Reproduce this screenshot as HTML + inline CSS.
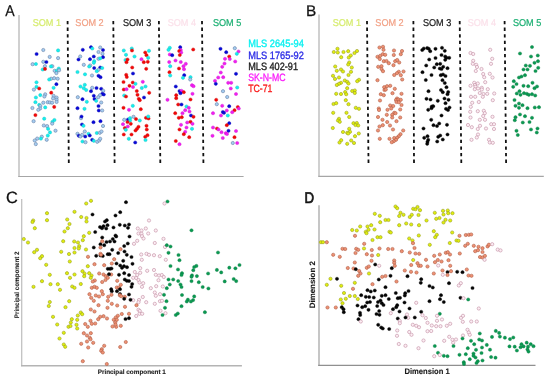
<!DOCTYPE html>
<html><head><meta charset="utf-8"><title>SOM figure</title>
<style>html,body{margin:0;padding:0;background:#fff;width:550px;height:380px;overflow:hidden}svg{display:block}.lb{fill:#a4cdf2;stroke:#7088ac;stroke-width:0.65px}.cy{fill:#12f0f0;stroke:#1cc4c4;stroke-width:0.5px}.bl{fill:#0808d8;stroke:#0606b0;stroke-width:0.4px}.rd{fill:#f20808;stroke:#d00606;stroke-width:0.4px}.mg{fill:#f020f0;stroke:#d010d0;stroke-width:0.4px}.y{fill:#e2f00c;stroke:#98a020;stroke-width:0.6px}.s{fill:#ee9274;stroke:#b05c44;stroke-width:0.6px}.k{fill:#050505;stroke:#000000;stroke-width:0.4px}.p{fill:#fcedf3;stroke:#c694a8;stroke-width:0.65px}.g{fill:#0a9a52;stroke:#077a40;stroke-width:0.4px}</style>
</head><body>
<svg width="550" height="380" viewBox="0 0 550 380" text-rendering="geometricPrecision" font-family="'Liberation Sans', Arial, sans-serif">
<text x="5.3" y="15.7" font-size="15.6" fill="#111" stroke="#111" stroke-width="0.25" textLength="9.4" lengthAdjust="spacingAndGlyphs">A</text>
<text x="305.9" y="15.9" font-size="15.4" fill="#111" stroke="#111" stroke-width="0.25">B</text>
<text x="5.9" y="203.0" font-size="16.4" fill="#111" stroke="#111" stroke-width="0.25">C</text>
<text x="304.4" y="202.7" font-size="15.4" fill="#111" stroke="#111" stroke-width="0.7" textLength="9.6" lengthAdjust="spacingAndGlyphs">D</text>
<line x1="19.0" y1="15" x2="19.0" y2="177" stroke="#bcbcbc" stroke-width="1.4"/>
<line x1="18.3" y1="176.5" x2="243.6" y2="176.5" stroke="#a6a6a6" stroke-width="1.2"/>
<line x1="319.0" y1="14.4" x2="319.0" y2="176.8" stroke="#bcbcbc" stroke-width="1.4"/>
<line x1="318.3" y1="176.3" x2="543.8" y2="176.3" stroke="#a6a6a6" stroke-width="1.2"/>
<line x1="21.7" y1="199" x2="21.7" y2="366.3" stroke="#c2c2c2" stroke-width="1.3"/>
<line x1="21.1" y1="365.8" x2="241.9" y2="365.8" stroke="#b4b4b4" stroke-width="1.4"/>
<line x1="319.0" y1="205.3" x2="319.0" y2="365.9" stroke="#c0c0c0" stroke-width="1.8"/>
<line x1="318.2" y1="365.4" x2="535.5" y2="365.4" stroke="#909090" stroke-width="1.1"/>
<line x1="67.6" y1="21" x2="68.8" y2="163" stroke="#111" stroke-width="1.8" stroke-dasharray="3.3 3.3"/>
<line x1="113.3" y1="21" x2="114.6" y2="163" stroke="#111" stroke-width="1.8" stroke-dasharray="3.3 3.3"/>
<line x1="158.9" y1="21" x2="160.3" y2="163" stroke="#111" stroke-width="1.8" stroke-dasharray="3.3 3.3"/>
<line x1="202" y1="21" x2="203.4" y2="163" stroke="#111" stroke-width="1.8" stroke-dasharray="3.3 3.3"/>
<line x1="367" y1="21" x2="368.5" y2="163" stroke="#111" stroke-width="1.8" stroke-dasharray="3.3 3.3"/>
<line x1="413.4" y1="21" x2="414" y2="163" stroke="#111" stroke-width="1.8" stroke-dasharray="3.3 3.3"/>
<line x1="459.7" y1="21" x2="461.3" y2="163" stroke="#111" stroke-width="1.8" stroke-dasharray="3.3 3.3"/>
<line x1="504.6" y1="21" x2="506.1" y2="163" stroke="#111" stroke-width="1.8" stroke-dasharray="3.3 3.3"/>
<text x="32.7" y="25.95" fill="#d6ec6e" stroke="#d6ec6e" stroke-width="0.22" font-size="9.9" textLength="28.4" lengthAdjust="spacingAndGlyphs">SOM 1</text>
<text x="75.3" y="25.95" fill="#f2a287" stroke="#f2a287" stroke-width="0.22" font-size="9.9" textLength="28.4" lengthAdjust="spacingAndGlyphs">SOM 2</text>
<text x="122.9" y="25.95" fill="#1a1a1a" stroke="#1a1a1a" stroke-width="0.22" font-size="9.9" textLength="28.4" lengthAdjust="spacingAndGlyphs">SOM 3</text>
<text x="167.7" y="25.95" fill="#fbe1ea" stroke="#fbe1ea" stroke-width="0.22" font-size="9.9" textLength="28.4" lengthAdjust="spacingAndGlyphs">SOM 4</text>
<text x="212.89999999999998" y="25.95" fill="#1aaf72" stroke="#1aaf72" stroke-width="0.22" font-size="9.9" textLength="28.4" lengthAdjust="spacingAndGlyphs">SOM 5</text>
<text x="332.7" y="25.95" fill="#d6ec6e" stroke="#d6ec6e" stroke-width="0.22" font-size="9.9" textLength="28.4" lengthAdjust="spacingAndGlyphs">SOM 1</text>
<text x="375.3" y="25.95" fill="#f2a287" stroke="#f2a287" stroke-width="0.22" font-size="9.9" textLength="28.4" lengthAdjust="spacingAndGlyphs">SOM 2</text>
<text x="422.9" y="25.95" fill="#1a1a1a" stroke="#1a1a1a" stroke-width="0.22" font-size="9.9" textLength="28.4" lengthAdjust="spacingAndGlyphs">SOM 3</text>
<text x="467.7" y="25.95" fill="#fbe1ea" stroke="#fbe1ea" stroke-width="0.22" font-size="9.9" textLength="28.4" lengthAdjust="spacingAndGlyphs">SOM 4</text>
<text x="512.9000000000001" y="25.95" fill="#1aaf72" stroke="#1aaf72" stroke-width="0.22" font-size="9.9" textLength="28.4" lengthAdjust="spacingAndGlyphs">SOM 5</text>
<text x="248.2" y="46.9" fill="#08f0f0" stroke="#08f0f0" stroke-width="0.32" font-size="10.6" textLength="55.6" lengthAdjust="spacingAndGlyphs">MLS 2645-94</text>
<text x="248.2" y="58.6" fill="#2a2ae6" stroke="#2a2ae6" stroke-width="0.32" font-size="10.6" textLength="55.6" lengthAdjust="spacingAndGlyphs">MLS 1765-92</text>
<text x="248.2" y="70.0" fill="#1a1a1a" stroke="#1a1a1a" stroke-width="0.32" font-size="10.6" textLength="49.8" lengthAdjust="spacingAndGlyphs">MLS 402-91</text>
<text x="248.2" y="80.9" fill="#fa1efa" stroke="#fa1efa" stroke-width="0.32" font-size="10.6" textLength="37.3" lengthAdjust="spacingAndGlyphs">SK-N-MC</text>
<text x="248.2" y="92.0" fill="#fa1a1a" stroke="#fa1a1a" stroke-width="0.32" font-size="10.6" textLength="24.2" lengthAdjust="spacingAndGlyphs">TC-71</text>
<text x="97.7" y="373.7" font-size="6.5" font-weight="bold" fill="#1a1a1a" stroke="#1a1a1a" stroke-width="0.1" textLength="68.2" lengthAdjust="spacingAndGlyphs">Principal component 1</text>
<text transform="translate(19.4,318.2) rotate(-90)" font-size="6.5" font-weight="bold" fill="#1a1a1a" stroke="#1a1a1a" stroke-width="0.1" textLength="66.8" lengthAdjust="spacingAndGlyphs">Principal component 2</text>
<text x="404.4" y="374.4" font-size="8.1" font-weight="bold" fill="#1a1a1a" stroke="#1a1a1a" stroke-width="0.12" textLength="45.3" lengthAdjust="spacingAndGlyphs">Dimension 1</text>
<text transform="translate(315.4,308.3) rotate(-90)" font-size="7.9" font-weight="bold" fill="#1a1a1a" stroke="#1a1a1a" stroke-width="0.1" textLength="47.2" lengthAdjust="spacingAndGlyphs">Dimension 2</text>
<circle class="lb" cx="43.3" cy="50.0" r="1.62"/>
<circle class="cy" cx="58.1" cy="50.4" r="1.62"/>
<circle class="bl" cx="36.6" cy="54.0" r="1.62"/>
<circle class="lb" cx="49.7" cy="56.9" r="1.62"/>
<circle class="lb" cx="58.1" cy="58.1" r="1.62"/>
<circle class="lb" cx="43.3" cy="61.8" r="1.62"/>
<circle class="bl" cx="46.4" cy="62.0" r="1.62"/>
<circle class="lb" cx="32.6" cy="64.2" r="1.62"/>
<circle class="cy" cx="35.9" cy="64.0" r="1.62"/>
<circle class="lb" cx="44.9" cy="66.2" r="1.62"/>
<circle class="lb" cx="52.3" cy="66.2" r="1.62"/>
<circle class="cy" cx="51.0" cy="66.4" r="1.62"/>
<circle class="cy" cx="42.7" cy="69.5" r="1.62"/>
<circle class="rd" cx="45.0" cy="68.9" r="1.62"/>
<circle class="cy" cx="58.8" cy="68.6" r="1.62"/>
<circle class="lb" cx="54.7" cy="70.8" r="1.62"/>
<circle class="cy" cx="56.9" cy="70.8" r="1.62"/>
<circle class="lb" cx="59.0" cy="70.3" r="1.62"/>
<circle class="lb" cx="56.4" cy="73.1" r="1.62"/>
<circle class="lb" cx="51.2" cy="78.7" r="1.62"/>
<circle class="lb" cx="54.2" cy="78.2" r="1.62"/>
<circle class="lb" cx="57.7" cy="78.7" r="1.62"/>
<circle class="cy" cx="49.2" cy="79.5" r="1.62"/>
<circle class="cy" cx="36.5" cy="82.3" r="1.62"/>
<circle class="bl" cx="56.4" cy="84.2" r="1.62"/>
<circle class="cy" cx="36.5" cy="86.9" r="1.62"/>
<circle class="lb" cx="33.9" cy="89.6" r="1.62"/>
<circle class="rd" cx="39.2" cy="88.5" r="1.62"/>
<circle class="cy" cx="53.6" cy="87.8" r="1.62"/>
<circle class="rd" cx="51.2" cy="92.7" r="1.62"/>
<circle class="cy" cx="40.3" cy="95.1" r="1.62"/>
<circle class="lb" cx="45.2" cy="94.3" r="1.62"/>
<circle class="lb" cx="44.4" cy="96.5" r="1.62"/>
<circle class="cy" cx="35.9" cy="97.5" r="1.62"/>
<circle class="lb" cx="53.6" cy="95.9" r="1.62"/>
<circle class="lb" cx="56.6" cy="97.6" r="1.62"/>
<circle class="lb" cx="53.1" cy="98.4" r="1.62"/>
<circle class="lb" cx="56.6" cy="99.8" r="1.62"/>
<circle class="lb" cx="56.6" cy="101.9" r="1.62"/>
<circle class="cy" cx="35.4" cy="102.2" r="1.62"/>
<circle class="lb" cx="43.3" cy="102.7" r="1.62"/>
<circle class="lb" cx="47.7" cy="102.2" r="1.62"/>
<circle class="lb" cx="49.9" cy="102.4" r="1.62"/>
<circle class="lb" cx="52.1" cy="102.7" r="1.62"/>
<circle class="cy" cx="39.2" cy="104.9" r="1.62"/>
<circle class="lb" cx="40.3" cy="106.0" r="1.62"/>
<circle class="cy" cx="45.2" cy="107.4" r="1.62"/>
<circle class="rd" cx="54.2" cy="106.9" r="1.62"/>
<circle class="lb" cx="32.4" cy="108.0" r="1.62"/>
<circle class="lb" cx="40.1" cy="108.5" r="1.62"/>
<circle class="lb" cx="38.3" cy="109.8" r="1.62"/>
<circle class="rd" cx="35.4" cy="115.1" r="1.62"/>
<circle class="cy" cx="44.2" cy="118.7" r="1.62"/>
<circle class="lb" cx="33.6" cy="121.2" r="1.62"/>
<circle class="cy" cx="54.4" cy="120.0" r="1.62"/>
<circle class="cy" cx="52.5" cy="121.8" r="1.62"/>
<circle class="lb" cx="52.2" cy="123.6" r="1.62"/>
<circle class="lb" cx="43.8" cy="125.5" r="1.62"/>
<circle class="lb" cx="47.1" cy="126.1" r="1.62"/>
<circle class="cy" cx="48.1" cy="128.8" r="1.62"/>
<circle class="cy" cx="50.0" cy="132.4" r="1.62"/>
<circle class="lb" cx="55.5" cy="130.7" r="1.62"/>
<circle class="cy" cx="47.8" cy="135.6" r="1.62"/>
<circle class="lb" cx="41.8" cy="136.7" r="1.62"/>
<circle class="cy" cx="40.9" cy="138.6" r="1.62"/>
<circle class="lb" cx="37.2" cy="138.6" r="1.62"/>
<circle class="lb" cx="34.7" cy="140.5" r="1.62"/>
<circle class="lb" cx="46.7" cy="139.8" r="1.62"/>
<circle class="lb" cx="35.8" cy="144.1" r="1.62"/>
<circle class="bl" cx="82.8" cy="49.8" r="1.62"/>
<circle class="bl" cx="91.0" cy="47.2" r="1.62"/>
<circle class="cy" cx="92.3" cy="48.5" r="1.62"/>
<circle class="lb" cx="100.2" cy="47.5" r="1.62"/>
<circle class="bl" cx="103.0" cy="50.0" r="1.62"/>
<circle class="lb" cx="98.5" cy="52.0" r="1.62"/>
<circle class="lb" cx="102.5" cy="53.8" r="1.62"/>
<circle class="lb" cx="80.2" cy="56.5" r="1.62"/>
<circle class="bl" cx="78.5" cy="59.5" r="1.62"/>
<circle class="bl" cx="93.8" cy="56.5" r="1.62"/>
<circle class="bl" cx="90.0" cy="59.2" r="1.62"/>
<circle class="bl" cx="103.0" cy="57.2" r="1.62"/>
<circle class="lb" cx="98.5" cy="58.8" r="1.62"/>
<circle class="cy" cx="100.2" cy="58.3" r="1.62"/>
<circle class="cy" cx="94.2" cy="61.2" r="1.62"/>
<circle class="cy" cx="93.8" cy="62.8" r="1.62"/>
<circle class="lb" cx="83.8" cy="64.8" r="1.62"/>
<circle class="lb" cx="90.2" cy="65.5" r="1.62"/>
<circle class="cy" cx="89.2" cy="66.5" r="1.62"/>
<circle class="bl" cx="94.2" cy="68.0" r="1.62"/>
<circle class="bl" cx="100.2" cy="67.5" r="1.62"/>
<circle class="cy" cx="102.2" cy="68.0" r="1.62"/>
<circle class="lb" cx="98.5" cy="69.8" r="1.62"/>
<circle class="cy" cx="96.8" cy="71.2" r="1.62"/>
<circle class="cy" cx="77.5" cy="72.0" r="1.62"/>
<circle class="cy" cx="85.0" cy="74.3" r="1.62"/>
<circle class="lb" cx="92.0" cy="75.5" r="1.62"/>
<circle class="bl" cx="98.5" cy="75.8" r="1.62"/>
<circle class="bl" cx="100.5" cy="77.2" r="1.62"/>
<circle class="cy" cx="80.5" cy="86.5" r="1.62"/>
<circle class="cy" cx="84.8" cy="84.8" r="1.62"/>
<circle class="cy" cx="83.8" cy="88.2" r="1.62"/>
<circle class="cy" cx="86.2" cy="90.0" r="1.62"/>
<circle class="lb" cx="92.2" cy="87.8" r="1.62"/>
<circle class="bl" cx="96.5" cy="88.0" r="1.62"/>
<circle class="bl" cx="91.0" cy="91.2" r="1.62"/>
<circle class="bl" cx="101.2" cy="88.8" r="1.62"/>
<circle class="lb" cx="103.2" cy="90.8" r="1.62"/>
<circle class="bl" cx="102.2" cy="93.8" r="1.62"/>
<circle class="bl" cx="103.8" cy="94.5" r="1.62"/>
<circle class="lb" cx="100.0" cy="95.2" r="1.62"/>
<circle class="lb" cx="98.2" cy="97.2" r="1.62"/>
<circle class="bl" cx="93.8" cy="95.8" r="1.62"/>
<circle class="bl" cx="94.5" cy="99.0" r="1.62"/>
<circle class="cy" cx="96.2" cy="100.8" r="1.62"/>
<circle class="lb" cx="77.8" cy="97.2" r="1.62"/>
<circle class="bl" cx="82.5" cy="99.2" r="1.62"/>
<circle class="cy" cx="86.8" cy="101.8" r="1.62"/>
<circle class="lb" cx="101.2" cy="102.5" r="1.62"/>
<circle class="bl" cx="98.5" cy="106.0" r="1.62"/>
<circle class="bl" cx="77.5" cy="108.2" r="1.62"/>
<circle class="cy" cx="84.5" cy="108.8" r="1.62"/>
<circle class="bl" cx="98.8" cy="110.5" r="1.62"/>
<circle class="lb" cx="102.2" cy="110.5" r="1.62"/>
<circle class="lb" cx="81.0" cy="118.2" r="1.62"/>
<circle class="bl" cx="81.5" cy="116.5" r="1.62"/>
<circle class="bl" cx="93.5" cy="122.2" r="1.62"/>
<circle class="bl" cx="100.5" cy="121.2" r="1.62"/>
<circle class="bl" cx="82.0" cy="124.5" r="1.62"/>
<circle class="cy" cx="83.5" cy="125.8" r="1.62"/>
<circle class="lb" cx="103.0" cy="126.0" r="1.62"/>
<circle class="lb" cx="84.8" cy="131.5" r="1.62"/>
<circle class="lb" cx="77.5" cy="133.8" r="1.62"/>
<circle class="bl" cx="78.8" cy="135.8" r="1.62"/>
<circle class="lb" cx="80.5" cy="136.5" r="1.62"/>
<circle class="lb" cx="82.2" cy="134.8" r="1.62"/>
<circle class="bl" cx="85.2" cy="136.5" r="1.62"/>
<circle class="cy" cx="88.5" cy="133.8" r="1.62"/>
<circle class="bl" cx="89.8" cy="135.5" r="1.62"/>
<circle class="cy" cx="96.8" cy="133.0" r="1.62"/>
<circle class="lb" cx="99.8" cy="132.8" r="1.62"/>
<circle class="lb" cx="101.5" cy="131.5" r="1.62"/>
<circle class="cy" cx="82.5" cy="141.5" r="1.62"/>
<circle class="lb" cx="85.5" cy="142.2" r="1.62"/>
<circle class="bl" cx="92.2" cy="139.8" r="1.62"/>
<circle class="cy" cx="93.8" cy="140.8" r="1.62"/>
<circle class="lb" cx="97.2" cy="141.8" r="1.62"/>
<circle class="lb" cx="99.2" cy="140.5" r="1.62"/>
<circle class="lb" cx="100.2" cy="138.8" r="1.62"/>
<circle class="cy" cx="123.8" cy="50.5" r="1.62"/>
<circle class="cy" cx="131.8" cy="48.5" r="1.62"/>
<circle class="rd" cx="132.0" cy="50.5" r="1.62"/>
<circle class="cy" cx="126.0" cy="54.8" r="1.62"/>
<circle class="cy" cx="134.5" cy="56.5" r="1.62"/>
<circle class="cy" cx="125.5" cy="60.0" r="1.62"/>
<circle class="rd" cx="127.5" cy="59.5" r="1.62"/>
<circle class="rd" cx="126.5" cy="62.2" r="1.62"/>
<circle class="rd" cx="145.2" cy="52.5" r="1.62"/>
<circle class="rd" cx="146.5" cy="55.2" r="1.62"/>
<circle class="cy" cx="149.0" cy="50.8" r="1.62"/>
<circle class="cy" cx="148.2" cy="57.8" r="1.62"/>
<circle class="mg" cx="141.5" cy="59.2" r="1.62"/>
<circle class="rd" cx="143.8" cy="62.2" r="1.62"/>
<circle class="rd" cx="147.8" cy="61.8" r="1.62"/>
<circle class="rd" cx="132.2" cy="67.5" r="1.62"/>
<circle class="rd" cx="146.2" cy="68.8" r="1.62"/>
<circle class="bl" cx="133.0" cy="73.5" r="1.62"/>
<circle class="rd" cx="126.2" cy="74.8" r="1.62"/>
<circle class="rd" cx="126.8" cy="77.0" r="1.62"/>
<circle class="rd" cx="123.5" cy="82.0" r="1.62"/>
<circle class="rd" cx="132.8" cy="82.5" r="1.62"/>
<circle class="cy" cx="135.5" cy="83.8" r="1.62"/>
<circle class="mg" cx="142.8" cy="81.8" r="1.62"/>
<circle class="rd" cx="129.5" cy="85.8" r="1.62"/>
<circle class="mg" cx="133.0" cy="87.0" r="1.62"/>
<circle class="rd" cx="123.8" cy="89.5" r="1.62"/>
<circle class="mg" cx="126.5" cy="89.2" r="1.62"/>
<circle class="cy" cx="141.8" cy="88.0" r="1.62"/>
<circle class="cy" cx="145.5" cy="86.5" r="1.62"/>
<circle class="rd" cx="136.8" cy="91.0" r="1.62"/>
<circle class="rd" cx="149.2" cy="92.8" r="1.62"/>
<circle class="rd" cx="137.5" cy="94.8" r="1.62"/>
<circle class="cy" cx="124.2" cy="95.5" r="1.62"/>
<circle class="rd" cx="126.0" cy="96.5" r="1.62"/>
<circle class="bl" cx="144.0" cy="97.5" r="1.62"/>
<circle class="rd" cx="138.8" cy="98.8" r="1.62"/>
<circle class="rd" cx="139.8" cy="100.2" r="1.62"/>
<circle class="cy" cx="132.8" cy="105.8" r="1.62"/>
<circle class="rd" cx="123.5" cy="107.8" r="1.62"/>
<circle class="mg" cx="129.0" cy="109.8" r="1.62"/>
<circle class="rd" cx="140.8" cy="109.2" r="1.62"/>
<circle class="lb" cx="124.2" cy="119.8" r="1.62"/>
<circle class="bl" cx="128.0" cy="119.5" r="1.62"/>
<circle class="cy" cx="130.0" cy="118.2" r="1.62"/>
<circle class="cy" cx="130.0" cy="120.5" r="1.62"/>
<circle class="lb" cx="133.5" cy="116.8" r="1.62"/>
<circle class="rd" cx="136.0" cy="119.0" r="1.62"/>
<circle class="cy" cx="139.8" cy="120.5" r="1.62"/>
<circle class="rd" cx="127.5" cy="122.0" r="1.62"/>
<circle class="rd" cx="130.8" cy="123.8" r="1.62"/>
<circle class="mg" cx="123.0" cy="124.2" r="1.62"/>
<circle class="rd" cx="146.0" cy="117.8" r="1.62"/>
<circle class="rd" cx="148.5" cy="118.5" r="1.62"/>
<circle class="cy" cx="148.2" cy="116.5" r="1.62"/>
<circle class="mg" cx="127.8" cy="126.5" r="1.62"/>
<circle class="rd" cx="124.8" cy="128.0" r="1.62"/>
<circle class="cy" cx="125.8" cy="129.8" r="1.62"/>
<circle class="rd" cx="138.5" cy="126.8" r="1.62"/>
<circle class="rd" cx="137.0" cy="128.8" r="1.62"/>
<circle class="rd" cx="135.5" cy="130.5" r="1.62"/>
<circle class="rd" cx="146.5" cy="125.8" r="1.62"/>
<circle class="rd" cx="146.8" cy="129.5" r="1.62"/>
<circle class="rd" cx="123.8" cy="134.5" r="1.62"/>
<circle class="rd" cx="131.5" cy="134.5" r="1.62"/>
<circle class="rd" cx="147.5" cy="135.2" r="1.62"/>
<circle class="rd" cx="145.2" cy="136.8" r="1.62"/>
<circle class="cy" cx="128.8" cy="138.8" r="1.62"/>
<circle class="cy" cx="145.5" cy="140.0" r="1.62"/>
<circle class="bl" cx="135.2" cy="142.5" r="1.62"/>
<circle class="cy" cx="169.8" cy="47.8" r="1.62"/>
<circle class="cy" cx="168.5" cy="49.8" r="1.62"/>
<circle class="bl" cx="180.2" cy="47.2" r="1.62"/>
<circle class="mg" cx="180.8" cy="50.0" r="1.62"/>
<circle class="rd" cx="179.2" cy="51.0" r="1.62"/>
<circle class="mg" cx="181.2" cy="52.5" r="1.62"/>
<circle class="rd" cx="179.8" cy="55.0" r="1.62"/>
<circle class="rd" cx="193.2" cy="49.5" r="1.62"/>
<circle class="mg" cx="169.8" cy="54.5" r="1.62"/>
<circle class="bl" cx="172.2" cy="55.2" r="1.62"/>
<circle class="mg" cx="175.5" cy="60.5" r="1.62"/>
<circle class="mg" cx="169.2" cy="62.0" r="1.62"/>
<circle class="mg" cx="180.8" cy="62.0" r="1.62"/>
<circle class="mg" cx="185.8" cy="63.8" r="1.62"/>
<circle class="cy" cx="170.2" cy="66.2" r="1.62"/>
<circle class="mg" cx="183.5" cy="66.2" r="1.62"/>
<circle class="mg" cx="184.0" cy="69.2" r="1.62"/>
<circle class="rd" cx="179.0" cy="68.5" r="1.62"/>
<circle class="rd" cx="169.5" cy="72.2" r="1.62"/>
<circle class="cy" cx="170.2" cy="75.5" r="1.62"/>
<circle class="bl" cx="184.2" cy="75.2" r="1.62"/>
<circle class="cy" cx="183.0" cy="77.8" r="1.62"/>
<circle class="cy" cx="190.5" cy="77.2" r="1.62"/>
<circle class="lb" cx="190.2" cy="79.5" r="1.62"/>
<circle class="bl" cx="175.8" cy="86.5" r="1.62"/>
<circle class="mg" cx="192.0" cy="85.2" r="1.62"/>
<circle class="mg" cx="193.5" cy="86.2" r="1.62"/>
<circle class="bl" cx="179.5" cy="91.0" r="1.62"/>
<circle class="mg" cx="181.5" cy="90.8" r="1.62"/>
<circle class="rd" cx="183.8" cy="92.2" r="1.62"/>
<circle class="bl" cx="180.5" cy="93.2" r="1.62"/>
<circle class="mg" cx="192.5" cy="93.8" r="1.62"/>
<circle class="rd" cx="176.2" cy="95.2" r="1.62"/>
<circle class="rd" cx="176.2" cy="98.2" r="1.62"/>
<circle class="mg" cx="167.5" cy="99.8" r="1.62"/>
<circle class="rd" cx="190.5" cy="99.5" r="1.62"/>
<circle class="rd" cx="178.2" cy="104.5" r="1.62"/>
<circle class="bl" cx="181.5" cy="104.5" r="1.62"/>
<circle class="cy" cx="186.5" cy="106.5" r="1.62"/>
<circle class="mg" cx="188.8" cy="107.8" r="1.62"/>
<circle class="mg" cx="185.2" cy="110.2" r="1.62"/>
<circle class="mg" cx="189.5" cy="111.5" r="1.62"/>
<circle class="rd" cx="175.2" cy="113.2" r="1.62"/>
<circle class="mg" cx="182.5" cy="113.2" r="1.62"/>
<circle class="bl" cx="191.0" cy="115.5" r="1.62"/>
<circle class="rd" cx="193.5" cy="116.8" r="1.62"/>
<circle class="rd" cx="178.8" cy="117.8" r="1.62"/>
<circle class="rd" cx="181.8" cy="117.2" r="1.62"/>
<circle class="mg" cx="187.2" cy="122.5" r="1.62"/>
<circle class="rd" cx="190.5" cy="121.8" r="1.62"/>
<circle class="mg" cx="192.5" cy="123.8" r="1.62"/>
<circle class="mg" cx="181.0" cy="124.8" r="1.62"/>
<circle class="mg" cx="186.5" cy="127.5" r="1.62"/>
<circle class="cy" cx="192.0" cy="128.8" r="1.62"/>
<circle class="rd" cx="179.5" cy="129.5" r="1.62"/>
<circle class="mg" cx="185.2" cy="131.8" r="1.62"/>
<circle class="rd" cx="183.8" cy="134.2" r="1.62"/>
<circle class="rd" cx="189.2" cy="137.2" r="1.62"/>
<circle class="rd" cx="175.8" cy="141.0" r="1.62"/>
<circle class="mg" cx="179.5" cy="144.2" r="1.62"/>
<circle class="bl" cx="220.5" cy="48.8" r="1.62"/>
<circle class="lb" cx="234.8" cy="48.2" r="1.62"/>
<circle class="bl" cx="226.2" cy="52.2" r="1.62"/>
<circle class="mg" cx="238.5" cy="51.5" r="1.62"/>
<circle class="cy" cx="236.8" cy="53.8" r="1.62"/>
<circle class="rd" cx="229.2" cy="56.5" r="1.62"/>
<circle class="mg" cx="225.0" cy="58.8" r="1.62"/>
<circle class="mg" cx="229.8" cy="59.0" r="1.62"/>
<circle class="mg" cx="235.2" cy="61.5" r="1.62"/>
<circle class="mg" cx="224.5" cy="63.5" r="1.62"/>
<circle class="mg" cx="222.2" cy="66.8" r="1.62"/>
<circle class="mg" cx="220.8" cy="72.5" r="1.62"/>
<circle class="bl" cx="236.0" cy="73.8" r="1.62"/>
<circle class="mg" cx="218.2" cy="77.5" r="1.62"/>
<circle class="mg" cx="223.2" cy="77.2" r="1.62"/>
<circle class="mg" cx="215.0" cy="80.8" r="1.62"/>
<circle class="bl" cx="215.8" cy="83.8" r="1.62"/>
<circle class="mg" cx="228.2" cy="82.8" r="1.62"/>
<circle class="mg" cx="231.2" cy="82.8" r="1.62"/>
<circle class="mg" cx="230.8" cy="88.5" r="1.62"/>
<circle class="cy" cx="237.2" cy="87.5" r="1.62"/>
<circle class="lb" cx="223.0" cy="91.2" r="1.62"/>
<circle class="mg" cx="236.0" cy="94.0" r="1.62"/>
<circle class="lb" cx="227.2" cy="97.0" r="1.62"/>
<circle class="rd" cx="216.2" cy="99.8" r="1.62"/>
<circle class="lb" cx="216.8" cy="104.2" r="1.62"/>
<circle class="mg" cx="222.2" cy="105.8" r="1.62"/>
<circle class="bl" cx="229.2" cy="106.2" r="1.62"/>
<circle class="rd" cx="237.8" cy="107.0" r="1.62"/>
<circle class="mg" cx="238.8" cy="108.5" r="1.62"/>
<circle class="rd" cx="234.5" cy="110.2" r="1.62"/>
<circle class="mg" cx="226.8" cy="110.5" r="1.62"/>
<circle class="bl" cx="222.8" cy="112.0" r="1.62"/>
<circle class="bl" cx="224.0" cy="112.8" r="1.62"/>
<circle class="mg" cx="232.2" cy="112.2" r="1.62"/>
<circle class="mg" cx="213.0" cy="113.2" r="1.62"/>
<circle class="mg" cx="221.0" cy="115.5" r="1.62"/>
<circle class="cy" cx="227.8" cy="115.5" r="1.62"/>
<circle class="bl" cx="229.2" cy="123.2" r="1.62"/>
<circle class="rd" cx="226.8" cy="125.2" r="1.62"/>
<circle class="mg" cx="213.0" cy="127.5" r="1.62"/>
<circle class="rd" cx="217.0" cy="128.5" r="1.62"/>
<circle class="mg" cx="218.5" cy="129.5" r="1.62"/>
<circle class="mg" cx="221.5" cy="132.2" r="1.62"/>
<circle class="bl" cx="228.5" cy="130.8" r="1.62"/>
<circle class="mg" cx="225.8" cy="133.2" r="1.62"/>
<circle class="mg" cx="227.0" cy="134.0" r="1.62"/>
<circle class="mg" cx="236.0" cy="131.0" r="1.62"/>
<circle class="mg" cx="212.5" cy="135.8" r="1.62"/>
<circle class="mg" cx="222.8" cy="138.0" r="1.62"/>
<circle class="rd" cx="234.5" cy="137.2" r="1.62"/>
<circle class="lb" cx="232.8" cy="143.0" r="1.62"/>
<circle class="mg" cx="237.2" cy="143.0" r="1.62"/>
<circle class="y" cx="337.5" cy="48.8" r="1.62"/>
<circle class="y" cx="333.8" cy="52.0" r="1.62"/>
<circle class="y" cx="337.8" cy="52.5" r="1.62"/>
<circle class="y" cx="343.5" cy="52.0" r="1.62"/>
<circle class="y" cx="348.2" cy="51.2" r="1.62"/>
<circle class="y" cx="357.0" cy="51.0" r="1.62"/>
<circle class="y" cx="354.5" cy="53.0" r="1.62"/>
<circle class="y" cx="341.2" cy="57.2" r="1.62"/>
<circle class="y" cx="350.8" cy="55.5" r="1.62"/>
<circle class="y" cx="348.8" cy="57.5" r="1.62"/>
<circle class="y" cx="349.2" cy="62.5" r="1.62"/>
<circle class="y" cx="348.2" cy="64.5" r="1.62"/>
<circle class="y" cx="335.2" cy="66.5" r="1.62"/>
<circle class="y" cx="351.8" cy="67.5" r="1.62"/>
<circle class="y" cx="336.8" cy="70.8" r="1.62"/>
<circle class="y" cx="341.0" cy="69.5" r="1.62"/>
<circle class="y" cx="343.0" cy="71.5" r="1.62"/>
<circle class="y" cx="351.0" cy="71.8" r="1.62"/>
<circle class="y" cx="348.5" cy="75.0" r="1.62"/>
<circle class="y" cx="333.0" cy="75.8" r="1.62"/>
<circle class="y" cx="339.0" cy="77.5" r="1.62"/>
<circle class="y" cx="335.0" cy="79.0" r="1.62"/>
<circle class="y" cx="344.8" cy="80.5" r="1.62"/>
<circle class="y" cx="347.2" cy="81.8" r="1.62"/>
<circle class="y" cx="348.5" cy="83.5" r="1.62"/>
<circle class="y" cx="359.0" cy="79.8" r="1.62"/>
<circle class="y" cx="357.2" cy="81.2" r="1.62"/>
<circle class="y" cx="341.0" cy="82.8" r="1.62"/>
<circle class="y" cx="339.0" cy="83.8" r="1.62"/>
<circle class="y" cx="336.8" cy="85.0" r="1.62"/>
<circle class="y" cx="347.2" cy="88.2" r="1.62"/>
<circle class="y" cx="352.2" cy="91.0" r="1.62"/>
<circle class="y" cx="354.8" cy="90.5" r="1.62"/>
<circle class="y" cx="354.8" cy="93.0" r="1.62"/>
<circle class="y" cx="336.2" cy="93.8" r="1.62"/>
<circle class="y" cx="341.0" cy="94.0" r="1.62"/>
<circle class="y" cx="345.2" cy="92.0" r="1.62"/>
<circle class="y" cx="346.2" cy="94.2" r="1.62"/>
<circle class="y" cx="345.8" cy="100.2" r="1.62"/>
<circle class="y" cx="333.5" cy="104.0" r="1.62"/>
<circle class="y" cx="336.2" cy="103.2" r="1.62"/>
<circle class="y" cx="348.5" cy="104.2" r="1.62"/>
<circle class="y" cx="355.8" cy="107.8" r="1.62"/>
<circle class="y" cx="359.0" cy="108.8" r="1.62"/>
<circle class="y" cx="333.2" cy="112.8" r="1.62"/>
<circle class="y" cx="346.5" cy="112.8" r="1.62"/>
<circle class="y" cx="349.2" cy="117.0" r="1.62"/>
<circle class="y" cx="339.0" cy="118.8" r="1.62"/>
<circle class="y" cx="338.0" cy="120.5" r="1.62"/>
<circle class="y" cx="339.8" cy="121.8" r="1.62"/>
<circle class="y" cx="353.5" cy="123.2" r="1.62"/>
<circle class="y" cx="356.8" cy="123.0" r="1.62"/>
<circle class="y" cx="355.5" cy="125.0" r="1.62"/>
<circle class="y" cx="358.2" cy="125.5" r="1.62"/>
<circle class="y" cx="332.8" cy="128.0" r="1.62"/>
<circle class="y" cx="349.2" cy="128.8" r="1.62"/>
<circle class="y" cx="343.0" cy="132.0" r="1.62"/>
<circle class="y" cx="347.2" cy="132.8" r="1.62"/>
<circle class="y" cx="350.0" cy="131.8" r="1.62"/>
<circle class="y" cx="348.2" cy="133.5" r="1.62"/>
<circle class="y" cx="358.8" cy="133.5" r="1.62"/>
<circle class="y" cx="355.0" cy="136.2" r="1.62"/>
<circle class="y" cx="341.2" cy="140.2" r="1.62"/>
<circle class="y" cx="339.5" cy="142.5" r="1.62"/>
<circle class="y" cx="351.2" cy="140.5" r="1.62"/>
<circle class="y" cx="354.0" cy="143.0" r="1.62"/>
<circle class="y" cx="347.2" cy="143.8" r="1.62"/>
<circle class="s" cx="379.5" cy="47.5" r="1.62"/>
<circle class="s" cx="383.0" cy="46.8" r="1.62"/>
<circle class="s" cx="383.5" cy="49.8" r="1.62"/>
<circle class="s" cx="394.0" cy="50.5" r="1.62"/>
<circle class="s" cx="402.0" cy="51.0" r="1.62"/>
<circle class="s" cx="400.8" cy="54.2" r="1.62"/>
<circle class="s" cx="393.8" cy="55.0" r="1.62"/>
<circle class="s" cx="377.5" cy="56.8" r="1.62"/>
<circle class="s" cx="380.2" cy="55.8" r="1.62"/>
<circle class="s" cx="382.8" cy="54.2" r="1.62"/>
<circle class="s" cx="385.2" cy="54.8" r="1.62"/>
<circle class="s" cx="379.8" cy="59.0" r="1.62"/>
<circle class="s" cx="383.8" cy="61.2" r="1.62"/>
<circle class="s" cx="386.5" cy="61.0" r="1.62"/>
<circle class="s" cx="388.8" cy="63.2" r="1.62"/>
<circle class="s" cx="395.2" cy="61.2" r="1.62"/>
<circle class="s" cx="397.2" cy="60.0" r="1.62"/>
<circle class="s" cx="399.2" cy="62.5" r="1.62"/>
<circle class="s" cx="393.5" cy="65.2" r="1.62"/>
<circle class="s" cx="378.2" cy="66.8" r="1.62"/>
<circle class="s" cx="381.5" cy="66.2" r="1.62"/>
<circle class="s" cx="381.5" cy="69.0" r="1.62"/>
<circle class="s" cx="383.0" cy="71.2" r="1.62"/>
<circle class="s" cx="398.8" cy="71.8" r="1.62"/>
<circle class="s" cx="403.5" cy="71.5" r="1.62"/>
<circle class="s" cx="397.0" cy="73.2" r="1.62"/>
<circle class="s" cx="394.2" cy="75.0" r="1.62"/>
<circle class="s" cx="400.8" cy="75.2" r="1.62"/>
<circle class="s" cx="377.5" cy="80.2" r="1.62"/>
<circle class="s" cx="402.2" cy="79.5" r="1.62"/>
<circle class="s" cx="384.2" cy="87.2" r="1.62"/>
<circle class="s" cx="387.0" cy="86.2" r="1.62"/>
<circle class="s" cx="390.2" cy="85.8" r="1.62"/>
<circle class="s" cx="384.5" cy="90.0" r="1.62"/>
<circle class="s" cx="385.8" cy="89.5" r="1.62"/>
<circle class="s" cx="394.8" cy="88.8" r="1.62"/>
<circle class="s" cx="380.8" cy="94.2" r="1.62"/>
<circle class="s" cx="383.8" cy="95.2" r="1.62"/>
<circle class="s" cx="392.5" cy="93.2" r="1.62"/>
<circle class="s" cx="401.5" cy="93.8" r="1.62"/>
<circle class="s" cx="380.0" cy="100.5" r="1.62"/>
<circle class="s" cx="397.0" cy="98.5" r="1.62"/>
<circle class="s" cx="396.0" cy="100.0" r="1.62"/>
<circle class="s" cx="398.5" cy="99.5" r="1.62"/>
<circle class="s" cx="400.8" cy="99.8" r="1.62"/>
<circle class="s" cx="396.5" cy="102.0" r="1.62"/>
<circle class="s" cx="398.8" cy="102.2" r="1.62"/>
<circle class="s" cx="401.5" cy="105.0" r="1.62"/>
<circle class="s" cx="390.2" cy="105.5" r="1.62"/>
<circle class="s" cx="393.2" cy="106.0" r="1.62"/>
<circle class="s" cx="391.2" cy="108.5" r="1.62"/>
<circle class="s" cx="378.8" cy="108.5" r="1.62"/>
<circle class="s" cx="379.0" cy="110.0" r="1.62"/>
<circle class="s" cx="387.5" cy="109.8" r="1.62"/>
<circle class="s" cx="400.2" cy="109.5" r="1.62"/>
<circle class="s" cx="394.2" cy="112.8" r="1.62"/>
<circle class="s" cx="395.5" cy="113.2" r="1.62"/>
<circle class="s" cx="392.2" cy="114.8" r="1.62"/>
<circle class="s" cx="378.0" cy="117.0" r="1.62"/>
<circle class="s" cx="386.8" cy="114.8" r="1.62"/>
<circle class="s" cx="392.2" cy="117.5" r="1.62"/>
<circle class="s" cx="400.2" cy="117.5" r="1.62"/>
<circle class="s" cx="382.5" cy="119.8" r="1.62"/>
<circle class="s" cx="387.2" cy="122.0" r="1.62"/>
<circle class="s" cx="396.5" cy="121.2" r="1.62"/>
<circle class="s" cx="382.8" cy="125.2" r="1.62"/>
<circle class="s" cx="379.5" cy="126.5" r="1.62"/>
<circle class="s" cx="390.0" cy="125.5" r="1.62"/>
<circle class="s" cx="378.0" cy="130.5" r="1.62"/>
<circle class="s" cx="393.0" cy="129.5" r="1.62"/>
<circle class="s" cx="403.2" cy="130.5" r="1.62"/>
<circle class="s" cx="379.8" cy="138.8" r="1.62"/>
<circle class="s" cx="389.5" cy="138.8" r="1.62"/>
<circle class="s" cx="400.5" cy="134.2" r="1.62"/>
<circle class="s" cx="398.8" cy="136.2" r="1.62"/>
<circle class="s" cx="397.0" cy="137.8" r="1.62"/>
<circle class="s" cx="394.2" cy="138.0" r="1.62"/>
<circle class="s" cx="396.0" cy="139.8" r="1.62"/>
<circle class="s" cx="393.8" cy="141.2" r="1.62"/>
<circle class="s" cx="391.8" cy="142.2" r="1.62"/>
<circle class="k" cx="422.2" cy="50.0" r="1.62"/>
<circle class="k" cx="423.8" cy="48.5" r="1.62"/>
<circle class="k" cx="427.2" cy="48.0" r="1.62"/>
<circle class="k" cx="428.8" cy="48.8" r="1.62"/>
<circle class="k" cx="430.2" cy="51.2" r="1.62"/>
<circle class="k" cx="435.5" cy="48.8" r="1.62"/>
<circle class="k" cx="442.0" cy="47.8" r="1.62"/>
<circle class="k" cx="444.8" cy="50.8" r="1.62"/>
<circle class="k" cx="441.5" cy="55.0" r="1.62"/>
<circle class="k" cx="445.2" cy="56.5" r="1.62"/>
<circle class="k" cx="446.5" cy="57.8" r="1.62"/>
<circle class="k" cx="449.2" cy="57.8" r="1.62"/>
<circle class="k" cx="445.2" cy="59.8" r="1.62"/>
<circle class="k" cx="435.5" cy="58.0" r="1.62"/>
<circle class="k" cx="429.2" cy="59.5" r="1.62"/>
<circle class="k" cx="436.8" cy="64.2" r="1.62"/>
<circle class="k" cx="440.2" cy="63.8" r="1.62"/>
<circle class="k" cx="426.2" cy="65.5" r="1.62"/>
<circle class="k" cx="434.2" cy="67.5" r="1.62"/>
<circle class="k" cx="443.2" cy="66.8" r="1.62"/>
<circle class="k" cx="439.8" cy="68.5" r="1.62"/>
<circle class="k" cx="441.5" cy="69.0" r="1.62"/>
<circle class="k" cx="447.5" cy="68.2" r="1.62"/>
<circle class="k" cx="422.5" cy="72.2" r="1.62"/>
<circle class="k" cx="431.5" cy="75.0" r="1.62"/>
<circle class="k" cx="440.8" cy="75.2" r="1.62"/>
<circle class="k" cx="443.0" cy="74.5" r="1.62"/>
<circle class="k" cx="445.5" cy="76.0" r="1.62"/>
<circle class="k" cx="425.8" cy="80.0" r="1.62"/>
<circle class="k" cx="442.5" cy="80.2" r="1.62"/>
<circle class="k" cx="444.8" cy="83.0" r="1.62"/>
<circle class="k" cx="446.5" cy="87.2" r="1.62"/>
<circle class="k" cx="428.5" cy="91.2" r="1.62"/>
<circle class="k" cx="441.0" cy="90.0" r="1.62"/>
<circle class="k" cx="442.8" cy="92.2" r="1.62"/>
<circle class="k" cx="448.2" cy="92.0" r="1.62"/>
<circle class="k" cx="447.5" cy="94.2" r="1.62"/>
<circle class="k" cx="426.5" cy="98.8" r="1.62"/>
<circle class="k" cx="430.5" cy="99.5" r="1.62"/>
<circle class="k" cx="437.8" cy="100.8" r="1.62"/>
<circle class="k" cx="444.5" cy="98.5" r="1.62"/>
<circle class="k" cx="448.5" cy="99.8" r="1.62"/>
<circle class="k" cx="445.5" cy="103.2" r="1.62"/>
<circle class="k" cx="431.8" cy="106.5" r="1.62"/>
<circle class="k" cx="433.2" cy="106.2" r="1.62"/>
<circle class="k" cx="431.5" cy="108.2" r="1.62"/>
<circle class="k" cx="428.2" cy="109.8" r="1.62"/>
<circle class="k" cx="446.0" cy="108.8" r="1.62"/>
<circle class="k" cx="448.0" cy="110.0" r="1.62"/>
<circle class="k" cx="449.5" cy="107.5" r="1.62"/>
<circle class="k" cx="441.5" cy="115.5" r="1.62"/>
<circle class="k" cx="431.2" cy="119.8" r="1.62"/>
<circle class="k" cx="433.5" cy="125.2" r="1.62"/>
<circle class="k" cx="437.0" cy="126.0" r="1.62"/>
<circle class="k" cx="439.2" cy="123.5" r="1.62"/>
<circle class="k" cx="447.0" cy="124.8" r="1.62"/>
<circle class="k" cx="423.5" cy="128.5" r="1.62"/>
<circle class="k" cx="447.5" cy="134.5" r="1.62"/>
<circle class="k" cx="424.2" cy="137.8" r="1.62"/>
<circle class="k" cx="427.5" cy="136.2" r="1.62"/>
<circle class="k" cx="428.2" cy="139.8" r="1.62"/>
<circle class="k" cx="427.5" cy="141.8" r="1.62"/>
<circle class="k" cx="427.2" cy="143.8" r="1.62"/>
<circle class="k" cx="438.2" cy="136.8" r="1.62"/>
<circle class="k" cx="440.2" cy="135.5" r="1.62"/>
<circle class="k" cx="442.8" cy="139.5" r="1.62"/>
<circle class="k" cx="437.2" cy="141.5" r="1.62"/>
<circle class="p" cx="490.2" cy="49.8" r="1.62"/>
<circle class="p" cx="470.5" cy="53.0" r="1.62"/>
<circle class="p" cx="473.2" cy="54.0" r="1.62"/>
<circle class="p" cx="492.2" cy="58.8" r="1.62"/>
<circle class="p" cx="473.2" cy="60.8" r="1.62"/>
<circle class="p" cx="472.8" cy="63.8" r="1.62"/>
<circle class="p" cx="476.2" cy="64.8" r="1.62"/>
<circle class="p" cx="491.0" cy="63.8" r="1.62"/>
<circle class="p" cx="477.0" cy="67.0" r="1.62"/>
<circle class="p" cx="481.5" cy="69.0" r="1.62"/>
<circle class="p" cx="475.8" cy="71.0" r="1.62"/>
<circle class="p" cx="483.2" cy="74.0" r="1.62"/>
<circle class="p" cx="489.8" cy="73.8" r="1.62"/>
<circle class="p" cx="484.2" cy="77.2" r="1.62"/>
<circle class="p" cx="492.5" cy="77.5" r="1.62"/>
<circle class="p" cx="485.2" cy="82.2" r="1.62"/>
<circle class="p" cx="474.2" cy="82.8" r="1.62"/>
<circle class="p" cx="477.8" cy="83.5" r="1.62"/>
<circle class="p" cx="470.5" cy="85.8" r="1.62"/>
<circle class="p" cx="475.0" cy="85.0" r="1.62"/>
<circle class="p" cx="475.5" cy="86.8" r="1.62"/>
<circle class="p" cx="474.8" cy="89.2" r="1.62"/>
<circle class="p" cx="478.0" cy="88.5" r="1.62"/>
<circle class="p" cx="481.8" cy="87.8" r="1.62"/>
<circle class="p" cx="481.8" cy="89.5" r="1.62"/>
<circle class="p" cx="487.8" cy="89.2" r="1.62"/>
<circle class="p" cx="479.8" cy="93.0" r="1.62"/>
<circle class="p" cx="483.5" cy="94.0" r="1.62"/>
<circle class="p" cx="487.2" cy="93.8" r="1.62"/>
<circle class="p" cx="494.2" cy="93.5" r="1.62"/>
<circle class="p" cx="471.0" cy="96.8" r="1.62"/>
<circle class="p" cx="475.2" cy="96.8" r="1.62"/>
<circle class="p" cx="482.8" cy="96.8" r="1.62"/>
<circle class="p" cx="492.8" cy="100.2" r="1.62"/>
<circle class="p" cx="472.2" cy="102.8" r="1.62"/>
<circle class="p" cx="478.8" cy="102.0" r="1.62"/>
<circle class="p" cx="470.8" cy="106.8" r="1.62"/>
<circle class="p" cx="470.2" cy="111.8" r="1.62"/>
<circle class="p" cx="477.8" cy="111.2" r="1.62"/>
<circle class="p" cx="483.8" cy="110.8" r="1.62"/>
<circle class="p" cx="484.8" cy="113.2" r="1.62"/>
<circle class="p" cx="483.2" cy="116.0" r="1.62"/>
<circle class="p" cx="492.5" cy="116.8" r="1.62"/>
<circle class="p" cx="470.5" cy="117.5" r="1.62"/>
<circle class="p" cx="479.8" cy="119.8" r="1.62"/>
<circle class="p" cx="485.0" cy="119.8" r="1.62"/>
<circle class="p" cx="468.0" cy="125.0" r="1.62"/>
<circle class="p" cx="471.8" cy="127.2" r="1.62"/>
<circle class="p" cx="480.0" cy="125.8" r="1.62"/>
<circle class="p" cx="477.8" cy="129.0" r="1.62"/>
<circle class="p" cx="486.0" cy="128.5" r="1.62"/>
<circle class="p" cx="491.2" cy="124.2" r="1.62"/>
<circle class="p" cx="494.0" cy="124.2" r="1.62"/>
<circle class="p" cx="494.0" cy="129.0" r="1.62"/>
<circle class="p" cx="478.0" cy="134.5" r="1.62"/>
<circle class="p" cx="476.8" cy="137.5" r="1.62"/>
<circle class="p" cx="471.5" cy="139.8" r="1.62"/>
<circle class="p" cx="489.0" cy="139.8" r="1.62"/>
<circle class="p" cx="489.8" cy="142.5" r="1.62"/>
<circle class="p" cx="492.8" cy="142.8" r="1.62"/>
<circle class="g" cx="532.0" cy="47.0" r="1.62"/>
<circle class="g" cx="520.0" cy="53.5" r="1.62"/>
<circle class="g" cx="531.0" cy="56.5" r="1.62"/>
<circle class="g" cx="537.8" cy="55.5" r="1.62"/>
<circle class="g" cx="538.0" cy="61.2" r="1.62"/>
<circle class="g" cx="534.5" cy="62.8" r="1.62"/>
<circle class="g" cx="525.8" cy="65.5" r="1.62"/>
<circle class="g" cx="530.0" cy="65.8" r="1.62"/>
<circle class="g" cx="538.2" cy="67.8" r="1.62"/>
<circle class="g" cx="523.5" cy="69.5" r="1.62"/>
<circle class="g" cx="527.5" cy="69.5" r="1.62"/>
<circle class="g" cx="535.5" cy="71.0" r="1.62"/>
<circle class="g" cx="525.0" cy="75.2" r="1.62"/>
<circle class="g" cx="521.5" cy="76.5" r="1.62"/>
<circle class="g" cx="519.0" cy="77.5" r="1.62"/>
<circle class="g" cx="513.8" cy="81.2" r="1.62"/>
<circle class="g" cx="516.5" cy="84.0" r="1.62"/>
<circle class="g" cx="513.2" cy="86.8" r="1.62"/>
<circle class="g" cx="523.5" cy="85.8" r="1.62"/>
<circle class="g" cx="528.2" cy="86.2" r="1.62"/>
<circle class="g" cx="532.5" cy="82.8" r="1.62"/>
<circle class="g" cx="534.5" cy="88.2" r="1.62"/>
<circle class="g" cx="537.0" cy="86.5" r="1.62"/>
<circle class="g" cx="519.5" cy="91.2" r="1.62"/>
<circle class="g" cx="516.8" cy="93.5" r="1.62"/>
<circle class="g" cx="520.5" cy="94.8" r="1.62"/>
<circle class="g" cx="524.0" cy="93.2" r="1.62"/>
<circle class="g" cx="526.8" cy="93.8" r="1.62"/>
<circle class="g" cx="528.8" cy="94.8" r="1.62"/>
<circle class="g" cx="532.0" cy="94.2" r="1.62"/>
<circle class="g" cx="535.2" cy="95.5" r="1.62"/>
<circle class="g" cx="514.5" cy="100.0" r="1.62"/>
<circle class="g" cx="519.0" cy="103.5" r="1.62"/>
<circle class="g" cx="515.5" cy="105.8" r="1.62"/>
<circle class="g" cx="522.5" cy="105.2" r="1.62"/>
<circle class="g" cx="519.0" cy="107.8" r="1.62"/>
<circle class="g" cx="527.5" cy="108.2" r="1.62"/>
<circle class="g" cx="534.8" cy="107.5" r="1.62"/>
<circle class="g" cx="539.0" cy="107.2" r="1.62"/>
<circle class="g" cx="520.0" cy="114.5" r="1.62"/>
<circle class="g" cx="515.5" cy="117.2" r="1.62"/>
<circle class="g" cx="514.8" cy="120.2" r="1.62"/>
<circle class="g" cx="525.0" cy="116.2" r="1.62"/>
<circle class="g" cx="532.0" cy="117.8" r="1.62"/>
<circle class="g" cx="522.8" cy="122.5" r="1.62"/>
<circle class="g" cx="529.5" cy="122.0" r="1.62"/>
<circle class="g" cx="516.5" cy="130.8" r="1.62"/>
<circle class="g" cx="517.8" cy="135.0" r="1.62"/>
<circle class="g" cx="531.0" cy="129.5" r="1.62"/>
<circle class="g" cx="537.5" cy="128.5" r="1.62"/>
<circle class="g" cx="536.8" cy="132.5" r="1.62"/>
<circle class="y" cx="47.0" cy="213.2" r="1.62"/>
<circle class="y" cx="33.2" cy="220.5" r="1.62"/>
<circle class="y" cx="32.5" cy="222.0" r="1.62"/>
<circle class="y" cx="47.0" cy="220.2" r="1.62"/>
<circle class="y" cx="34.8" cy="228.2" r="1.62"/>
<circle class="y" cx="67.2" cy="219.5" r="1.62"/>
<circle class="y" cx="69.5" cy="224.0" r="1.62"/>
<circle class="y" cx="67.8" cy="228.2" r="1.62"/>
<circle class="y" cx="74.5" cy="211.8" r="1.62"/>
<circle class="y" cx="64.5" cy="231.5" r="1.62"/>
<circle class="y" cx="23.8" cy="239.0" r="1.62"/>
<circle class="y" cx="28.0" cy="242.5" r="1.62"/>
<circle class="y" cx="63.2" cy="241.2" r="1.62"/>
<circle class="y" cx="74.2" cy="241.5" r="1.62"/>
<circle class="y" cx="37.0" cy="249.8" r="1.62"/>
<circle class="y" cx="34.2" cy="252.2" r="1.62"/>
<circle class="y" cx="61.2" cy="251.8" r="1.62"/>
<circle class="y" cx="69.0" cy="254.0" r="1.62"/>
<circle class="y" cx="74.5" cy="248.0" r="1.62"/>
<circle class="y" cx="74.5" cy="252.5" r="1.62"/>
<circle class="y" cx="42.0" cy="256.2" r="1.62"/>
<circle class="y" cx="40.2" cy="258.2" r="1.62"/>
<circle class="y" cx="69.8" cy="261.5" r="1.62"/>
<circle class="y" cx="46.2" cy="264.8" r="1.62"/>
<circle class="y" cx="49.8" cy="274.8" r="1.62"/>
<circle class="y" cx="67.0" cy="273.2" r="1.62"/>
<circle class="y" cx="74.5" cy="274.5" r="1.62"/>
<circle class="y" cx="70.0" cy="277.8" r="1.62"/>
<circle class="y" cx="42.0" cy="281.2" r="1.62"/>
<circle class="y" cx="33.5" cy="286.8" r="1.62"/>
<circle class="y" cx="50.5" cy="284.2" r="1.62"/>
<circle class="y" cx="57.8" cy="284.2" r="1.62"/>
<circle class="y" cx="60.0" cy="289.8" r="1.62"/>
<circle class="y" cx="72.2" cy="286.5" r="1.62"/>
<circle class="y" cx="74.5" cy="287.8" r="1.62"/>
<circle class="y" cx="49.8" cy="302.0" r="1.62"/>
<circle class="y" cx="69.2" cy="301.2" r="1.62"/>
<circle class="y" cx="48.8" cy="306.0" r="1.62"/>
<circle class="y" cx="65.5" cy="307.2" r="1.62"/>
<circle class="y" cx="53.0" cy="316.8" r="1.62"/>
<circle class="y" cx="71.8" cy="319.2" r="1.62"/>
<circle class="y" cx="70.8" cy="322.5" r="1.62"/>
<circle class="y" cx="57.2" cy="324.5" r="1.62"/>
<circle class="y" cx="68.5" cy="326.8" r="1.62"/>
<circle class="y" cx="70.5" cy="326.0" r="1.62"/>
<circle class="y" cx="63.8" cy="332.8" r="1.62"/>
<circle class="y" cx="59.5" cy="338.5" r="1.62"/>
<circle class="y" cx="63.8" cy="344.5" r="1.62"/>
<circle class="y" cx="65.2" cy="346.8" r="1.62"/>
<circle class="y" cx="91.0" cy="200.8" r="1.62"/>
<circle class="y" cx="86.2" cy="203.5" r="1.62"/>
<circle class="y" cx="81.2" cy="217.0" r="1.62"/>
<circle class="y" cx="86.5" cy="218.0" r="1.62"/>
<circle class="y" cx="86.5" cy="221.5" r="1.62"/>
<circle class="k" cx="92.5" cy="214.5" r="1.62"/>
<circle class="k" cx="126.0" cy="202.2" r="1.62"/>
<circle class="k" cx="120.2" cy="212.2" r="1.62"/>
<circle class="k" cx="115.5" cy="215.5" r="1.62"/>
<circle class="k" cx="106.8" cy="220.2" r="1.62"/>
<circle class="k" cx="105.0" cy="221.5" r="1.62"/>
<circle class="k" cx="107.5" cy="225.2" r="1.62"/>
<circle class="k" cx="100.0" cy="227.0" r="1.62"/>
<circle class="k" cx="103.5" cy="226.2" r="1.62"/>
<circle class="k" cx="102.0" cy="228.2" r="1.62"/>
<circle class="k" cx="106.2" cy="228.5" r="1.62"/>
<circle class="k" cx="113.5" cy="227.5" r="1.62"/>
<circle class="k" cx="119.8" cy="224.8" r="1.62"/>
<circle class="k" cx="124.8" cy="225.5" r="1.62"/>
<circle class="k" cx="128.0" cy="227.8" r="1.62"/>
<circle class="k" cx="129.0" cy="224.5" r="1.62"/>
<circle class="y" cx="89.2" cy="232.8" r="1.62"/>
<circle class="y" cx="83.8" cy="236.2" r="1.62"/>
<circle class="y" cx="82.8" cy="240.2" r="1.62"/>
<circle class="y" cx="78.0" cy="242.5" r="1.62"/>
<circle class="y" cx="79.2" cy="246.2" r="1.62"/>
<circle class="y" cx="78.8" cy="248.5" r="1.62"/>
<circle class="y" cx="86.0" cy="249.5" r="1.62"/>
<circle class="y" cx="87.8" cy="266.2" r="1.62"/>
<circle class="k" cx="95.2" cy="232.0" r="1.62"/>
<circle class="k" cx="102.2" cy="237.5" r="1.62"/>
<circle class="k" cx="115.5" cy="235.5" r="1.62"/>
<circle class="k" cx="116.2" cy="236.5" r="1.62"/>
<circle class="k" cx="112.8" cy="239.0" r="1.62"/>
<circle class="k" cx="114.5" cy="241.5" r="1.62"/>
<circle class="k" cx="110.0" cy="241.5" r="1.62"/>
<circle class="k" cx="106.5" cy="242.0" r="1.62"/>
<circle class="k" cx="100.5" cy="244.2" r="1.62"/>
<circle class="k" cx="104.2" cy="245.2" r="1.62"/>
<circle class="k" cx="93.8" cy="247.5" r="1.62"/>
<circle class="k" cx="112.2" cy="249.8" r="1.62"/>
<circle class="k" cx="118.2" cy="253.0" r="1.62"/>
<circle class="k" cx="107.8" cy="254.2" r="1.62"/>
<circle class="k" cx="109.5" cy="254.2" r="1.62"/>
<circle class="k" cx="96.2" cy="255.8" r="1.62"/>
<circle class="k" cx="100.5" cy="255.5" r="1.62"/>
<circle class="k" cx="102.8" cy="256.0" r="1.62"/>
<circle class="k" cx="124.2" cy="246.0" r="1.62"/>
<circle class="k" cx="127.8" cy="243.5" r="1.62"/>
<circle class="k" cx="129.5" cy="236.5" r="1.62"/>
<circle class="k" cx="124.5" cy="251.5" r="1.62"/>
<circle class="k" cx="126.8" cy="254.8" r="1.62"/>
<circle class="k" cx="123.2" cy="260.8" r="1.62"/>
<circle class="k" cx="116.5" cy="263.5" r="1.62"/>
<circle class="k" cx="120.2" cy="265.5" r="1.62"/>
<circle class="k" cx="124.0" cy="266.2" r="1.62"/>
<circle class="s" cx="102.2" cy="241.2" r="1.62"/>
<circle class="s" cx="100.5" cy="247.5" r="1.62"/>
<circle class="s" cx="120.5" cy="249.2" r="1.62"/>
<circle class="s" cx="100.5" cy="253.8" r="1.62"/>
<circle class="s" cx="101.0" cy="254.8" r="1.62"/>
<circle class="s" cx="88.0" cy="256.8" r="1.62"/>
<circle class="s" cx="114.2" cy="259.2" r="1.62"/>
<circle class="s" cx="94.5" cy="264.2" r="1.62"/>
<circle class="s" cx="104.2" cy="265.2" r="1.62"/>
<circle class="s" cx="111.8" cy="263.5" r="1.62"/>
<circle class="k" cx="122.0" cy="267.8" r="1.62"/>
<circle class="k" cx="127.0" cy="267.2" r="1.62"/>
<circle class="k" cx="107.8" cy="268.8" r="1.62"/>
<circle class="k" cx="110.0" cy="268.8" r="1.62"/>
<circle class="k" cx="111.5" cy="268.5" r="1.62"/>
<circle class="y" cx="82.5" cy="271.2" r="1.62"/>
<circle class="y" cx="84.5" cy="273.5" r="1.62"/>
<circle class="y" cx="84.2" cy="276.2" r="1.62"/>
<circle class="y" cx="89.2" cy="273.2" r="1.62"/>
<circle class="y" cx="91.5" cy="275.5" r="1.62"/>
<circle class="y" cx="90.8" cy="277.8" r="1.62"/>
<circle class="y" cx="80.8" cy="284.0" r="1.62"/>
<circle class="s" cx="99.2" cy="273.5" r="1.62"/>
<circle class="s" cx="103.5" cy="274.5" r="1.62"/>
<circle class="s" cx="105.8" cy="276.2" r="1.62"/>
<circle class="s" cx="107.8" cy="277.8" r="1.62"/>
<circle class="s" cx="111.2" cy="274.5" r="1.62"/>
<circle class="k" cx="109.0" cy="274.2" r="1.62"/>
<circle class="k" cx="119.0" cy="274.8" r="1.62"/>
<circle class="k" cx="124.2" cy="273.2" r="1.62"/>
<circle class="k" cx="129.0" cy="275.0" r="1.62"/>
<circle class="s" cx="94.8" cy="280.5" r="1.62"/>
<circle class="s" cx="92.8" cy="281.5" r="1.62"/>
<circle class="s" cx="105.5" cy="280.0" r="1.62"/>
<circle class="s" cx="102.2" cy="282.0" r="1.62"/>
<circle class="s" cx="117.2" cy="280.8" r="1.62"/>
<circle class="k" cx="124.8" cy="279.5" r="1.62"/>
<circle class="k" cx="126.8" cy="280.8" r="1.62"/>
<circle class="k" cx="129.0" cy="281.0" r="1.62"/>
<circle class="s" cx="120.8" cy="284.8" r="1.62"/>
<circle class="s" cx="91.8" cy="287.8" r="1.62"/>
<circle class="s" cx="94.5" cy="286.8" r="1.62"/>
<circle class="s" cx="96.8" cy="287.8" r="1.62"/>
<circle class="s" cx="116.8" cy="287.5" r="1.62"/>
<circle class="s" cx="119.0" cy="287.5" r="1.62"/>
<circle class="k" cx="111.2" cy="289.2" r="1.62"/>
<circle class="k" cx="111.8" cy="291.2" r="1.62"/>
<circle class="k" cx="120.0" cy="289.2" r="1.62"/>
<circle class="k" cx="117.0" cy="291.2" r="1.62"/>
<circle class="s" cx="101.8" cy="291.2" r="1.62"/>
<circle class="s" cx="102.8" cy="294.2" r="1.62"/>
<circle class="s" cx="89.5" cy="294.2" r="1.62"/>
<circle class="s" cx="95.8" cy="295.5" r="1.62"/>
<circle class="s" cx="99.0" cy="296.5" r="1.62"/>
<circle class="s" cx="111.5" cy="294.8" r="1.62"/>
<circle class="k" cx="120.0" cy="294.0" r="1.62"/>
<circle class="s" cx="119.8" cy="295.2" r="1.62"/>
<circle class="s" cx="121.2" cy="296.2" r="1.62"/>
<circle class="k" cx="129.0" cy="294.5" r="1.62"/>
<circle class="s" cx="108.2" cy="296.8" r="1.62"/>
<circle class="s" cx="124.8" cy="296.8" r="1.62"/>
<circle class="k" cx="124.2" cy="298.8" r="1.62"/>
<circle class="s" cx="91.2" cy="297.8" r="1.62"/>
<circle class="s" cx="93.8" cy="300.8" r="1.62"/>
<circle class="s" cx="107.8" cy="300.8" r="1.62"/>
<circle class="s" cx="111.8" cy="303.8" r="1.62"/>
<circle class="s" cx="98.5" cy="305.2" r="1.62"/>
<circle class="s" cx="117.2" cy="305.5" r="1.62"/>
<circle class="s" cx="125.0" cy="306.8" r="1.62"/>
<circle class="s" cx="107.5" cy="307.8" r="1.62"/>
<circle class="s" cx="90.8" cy="309.5" r="1.62"/>
<circle class="s" cx="94.5" cy="311.5" r="1.62"/>
<circle class="y" cx="80.8" cy="312.5" r="1.62"/>
<circle class="y" cx="82.2" cy="314.2" r="1.62"/>
<circle class="y" cx="77.8" cy="315.5" r="1.62"/>
<circle class="y" cx="77.2" cy="319.8" r="1.62"/>
<circle class="y" cx="76.5" cy="324.8" r="1.62"/>
<circle class="y" cx="77.2" cy="328.5" r="1.62"/>
<circle class="s" cx="121.8" cy="314.0" r="1.62"/>
<circle class="s" cx="129.0" cy="313.8" r="1.62"/>
<circle class="s" cx="117.8" cy="315.8" r="1.62"/>
<circle class="s" cx="115.8" cy="317.5" r="1.62"/>
<circle class="s" cx="103.5" cy="316.2" r="1.62"/>
<circle class="s" cx="100.2" cy="316.8" r="1.62"/>
<circle class="s" cx="98.2" cy="319.2" r="1.62"/>
<circle class="s" cx="107.0" cy="318.5" r="1.62"/>
<circle class="s" cx="113.8" cy="319.8" r="1.62"/>
<circle class="s" cx="116.8" cy="319.8" r="1.62"/>
<circle class="s" cx="115.2" cy="322.5" r="1.62"/>
<circle class="s" cx="90.5" cy="320.8" r="1.62"/>
<circle class="s" cx="91.8" cy="323.8" r="1.62"/>
<circle class="s" cx="95.2" cy="323.5" r="1.62"/>
<circle class="s" cx="85.2" cy="324.0" r="1.62"/>
<circle class="s" cx="87.8" cy="326.8" r="1.62"/>
<circle class="s" cx="112.5" cy="326.5" r="1.62"/>
<circle class="s" cx="116.2" cy="326.8" r="1.62"/>
<circle class="s" cx="120.8" cy="325.8" r="1.62"/>
<circle class="s" cx="115.5" cy="324.5" r="1.62"/>
<circle class="k" cx="125.5" cy="319.0" r="1.62"/>
<circle class="k" cx="129.0" cy="318.2" r="1.62"/>
<circle class="s" cx="83.8" cy="333.2" r="1.62"/>
<circle class="s" cx="87.0" cy="335.5" r="1.62"/>
<circle class="s" cx="90.8" cy="333.2" r="1.62"/>
<circle class="s" cx="89.8" cy="337.8" r="1.62"/>
<circle class="s" cx="90.5" cy="339.2" r="1.62"/>
<circle class="s" cx="87.0" cy="341.5" r="1.62"/>
<circle class="s" cx="81.2" cy="343.8" r="1.62"/>
<circle class="s" cx="93.2" cy="342.8" r="1.62"/>
<circle class="s" cx="88.2" cy="347.5" r="1.62"/>
<circle class="s" cx="104.2" cy="345.8" r="1.62"/>
<circle class="s" cx="101.8" cy="349.2" r="1.62"/>
<circle class="s" cx="101.2" cy="350.8" r="1.62"/>
<circle class="s" cx="102.8" cy="352.5" r="1.62"/>
<circle class="s" cx="120.2" cy="347.0" r="1.62"/>
<circle class="s" cx="125.8" cy="342.0" r="1.62"/>
<circle class="s" cx="82.8" cy="361.2" r="1.62"/>
<circle class="s" cx="106.8" cy="364.0" r="1.62"/>
<circle class="g" cx="167.5" cy="201.5" r="1.62"/>
<circle class="p" cx="164.5" cy="203.5" r="1.62"/>
<circle class="p" cx="149.0" cy="220.5" r="1.62"/>
<circle class="p" cx="137.8" cy="228.5" r="1.62"/>
<circle class="p" cx="145.8" cy="228.5" r="1.62"/>
<circle class="p" cx="141.5" cy="230.5" r="1.62"/>
<circle class="p" cx="155.8" cy="230.5" r="1.62"/>
<circle class="p" cx="138.5" cy="233.5" r="1.62"/>
<circle class="p" cx="141.5" cy="233.8" r="1.62"/>
<circle class="p" cx="148.2" cy="233.5" r="1.62"/>
<circle class="p" cx="142.0" cy="236.2" r="1.62"/>
<circle class="p" cx="143.5" cy="238.5" r="1.62"/>
<circle class="p" cx="163.5" cy="238.8" r="1.62"/>
<circle class="p" cx="137.2" cy="240.8" r="1.62"/>
<circle class="p" cx="134.0" cy="243.8" r="1.62"/>
<circle class="p" cx="154.8" cy="243.0" r="1.62"/>
<circle class="p" cx="165.0" cy="247.0" r="1.62"/>
<circle class="g" cx="166.8" cy="245.2" r="1.62"/>
<circle class="g" cx="170.5" cy="246.5" r="1.62"/>
<circle class="g" cx="168.5" cy="252.8" r="1.62"/>
<circle class="g" cx="178.5" cy="255.0" r="1.62"/>
<circle class="g" cx="179.5" cy="260.2" r="1.62"/>
<circle class="g" cx="170.5" cy="266.0" r="1.62"/>
<circle class="p" cx="141.2" cy="254.5" r="1.62"/>
<circle class="p" cx="146.5" cy="253.8" r="1.62"/>
<circle class="p" cx="149.0" cy="254.8" r="1.62"/>
<circle class="p" cx="154.0" cy="255.2" r="1.62"/>
<circle class="p" cx="159.8" cy="256.2" r="1.62"/>
<circle class="p" cx="141.8" cy="259.8" r="1.62"/>
<circle class="p" cx="165.8" cy="259.8" r="1.62"/>
<circle class="k" cx="131.5" cy="257.0" r="1.62"/>
<circle class="k" cx="132.5" cy="263.8" r="1.62"/>
<circle class="p" cx="140.2" cy="268.2" r="1.62"/>
<circle class="p" cx="147.2" cy="270.8" r="1.62"/>
<circle class="p" cx="154.0" cy="270.0" r="1.62"/>
<circle class="p" cx="134.8" cy="272.0" r="1.62"/>
<circle class="p" cx="140.2" cy="272.8" r="1.62"/>
<circle class="p" cx="137.2" cy="275.0" r="1.62"/>
<circle class="p" cx="155.8" cy="274.8" r="1.62"/>
<circle class="p" cx="159.0" cy="275.5" r="1.62"/>
<circle class="p" cx="161.8" cy="275.0" r="1.62"/>
<circle class="p" cx="163.8" cy="277.0" r="1.62"/>
<circle class="p" cx="133.2" cy="277.8" r="1.62"/>
<circle class="p" cx="136.2" cy="278.0" r="1.62"/>
<circle class="p" cx="138.5" cy="280.0" r="1.62"/>
<circle class="p" cx="158.5" cy="280.2" r="1.62"/>
<circle class="p" cx="139.5" cy="282.5" r="1.62"/>
<circle class="p" cx="143.2" cy="283.2" r="1.62"/>
<circle class="p" cx="142.0" cy="286.8" r="1.62"/>
<circle class="p" cx="150.8" cy="288.2" r="1.62"/>
<circle class="p" cx="156.2" cy="286.2" r="1.62"/>
<circle class="p" cx="162.8" cy="286.5" r="1.62"/>
<circle class="p" cx="154.8" cy="292.5" r="1.62"/>
<circle class="p" cx="155.8" cy="295.8" r="1.62"/>
<circle class="p" cx="160.0" cy="294.2" r="1.62"/>
<circle class="p" cx="142.8" cy="297.0" r="1.62"/>
<circle class="p" cx="133.2" cy="300.2" r="1.62"/>
<circle class="p" cx="139.0" cy="300.0" r="1.62"/>
<circle class="p" cx="138.5" cy="302.2" r="1.62"/>
<circle class="p" cx="146.2" cy="302.2" r="1.62"/>
<circle class="p" cx="160.0" cy="301.2" r="1.62"/>
<circle class="p" cx="162.0" cy="300.8" r="1.62"/>
<circle class="g" cx="178.0" cy="269.5" r="1.62"/>
<circle class="g" cx="182.0" cy="273.2" r="1.62"/>
<circle class="g" cx="181.5" cy="275.0" r="1.62"/>
<circle class="g" cx="168.5" cy="279.5" r="1.62"/>
<circle class="g" cx="173.2" cy="279.5" r="1.62"/>
<circle class="g" cx="178.2" cy="281.0" r="1.62"/>
<circle class="g" cx="169.8" cy="284.5" r="1.62"/>
<circle class="g" cx="180.5" cy="284.5" r="1.62"/>
<circle class="g" cx="181.5" cy="287.0" r="1.62"/>
<circle class="g" cx="166.8" cy="288.2" r="1.62"/>
<circle class="g" cx="164.0" cy="294.8" r="1.62"/>
<circle class="g" cx="182.0" cy="295.0" r="1.62"/>
<circle class="g" cx="166.5" cy="301.2" r="1.62"/>
<circle class="k" cx="132.2" cy="284.0" r="1.62"/>
<circle class="k" cx="131.5" cy="286.8" r="1.62"/>
<circle class="k" cx="130.5" cy="299.8" r="1.62"/>
<circle class="p" cx="154.8" cy="303.8" r="1.62"/>
<circle class="s" cx="136.5" cy="305.2" r="1.62"/>
<circle class="p" cx="138.5" cy="309.8" r="1.62"/>
<circle class="p" cx="139.8" cy="311.0" r="1.62"/>
<circle class="p" cx="139.5" cy="313.8" r="1.62"/>
<circle class="p" cx="142.2" cy="313.8" r="1.62"/>
<circle class="p" cx="136.2" cy="316.0" r="1.62"/>
<circle class="p" cx="160.5" cy="310.8" r="1.62"/>
<circle class="p" cx="165.5" cy="313.2" r="1.62"/>
<circle class="g" cx="165.0" cy="307.8" r="1.62"/>
<circle class="g" cx="162.5" cy="315.0" r="1.62"/>
<circle class="g" cx="181.5" cy="306.2" r="1.62"/>
<circle class="g" cx="177.8" cy="313.5" r="1.62"/>
<circle class="g" cx="175.8" cy="315.0" r="1.62"/>
<circle class="g" cx="191.5" cy="230.3" r="1.62"/>
<circle class="g" cx="218.0" cy="252.5" r="1.62"/>
<circle class="g" cx="194.2" cy="267.0" r="1.62"/>
<circle class="g" cx="196.4" cy="265.9" r="1.62"/>
<circle class="g" cx="229.3" cy="267.7" r="1.62"/>
<circle class="g" cx="235.4" cy="268.3" r="1.62"/>
<circle class="g" cx="239.5" cy="265.0" r="1.62"/>
<circle class="g" cx="193.3" cy="270.2" r="1.62"/>
<circle class="g" cx="216.9" cy="269.9" r="1.62"/>
<circle class="g" cx="221.2" cy="272.4" r="1.62"/>
<circle class="g" cx="208.1" cy="273.5" r="1.62"/>
<circle class="g" cx="192.0" cy="275.4" r="1.62"/>
<circle class="g" cx="191.5" cy="276.8" r="1.62"/>
<circle class="g" cx="196.9" cy="276.1" r="1.62"/>
<circle class="g" cx="191.5" cy="281.1" r="1.62"/>
<circle class="g" cx="198.8" cy="282.2" r="1.62"/>
<circle class="g" cx="224.7" cy="281.4" r="1.62"/>
<circle class="g" cx="233.7" cy="279.0" r="1.62"/>
<circle class="g" cx="236.2" cy="281.1" r="1.62"/>
<circle class="g" cx="202.7" cy="287.0" r="1.62"/>
<circle class="g" cx="208.4" cy="288.5" r="1.62"/>
<circle class="g" cx="194.2" cy="296.4" r="1.62"/>
<circle class="g" cx="187.9" cy="299.7" r="1.62"/>
<circle class="g" cx="193.1" cy="300.1" r="1.62"/>
<circle class="g" cx="190.9" cy="301.5" r="1.62"/>
<circle class="g" cx="186.8" cy="301.5" r="1.62"/>
<circle class="g" cx="204.9" cy="312.2" r="1.62"/>
<circle class="y" cx="360.2" cy="226.5" r="1.62"/>
<circle class="y" cx="352.2" cy="230.0" r="1.62"/>
<circle class="y" cx="356.8" cy="230.5" r="1.62"/>
<circle class="y" cx="367.5" cy="226.5" r="1.62"/>
<circle class="y" cx="371.2" cy="225.2" r="1.62"/>
<circle class="y" cx="368.5" cy="229.8" r="1.62"/>
<circle class="y" cx="365.8" cy="231.8" r="1.62"/>
<circle class="y" cx="366.5" cy="233.2" r="1.62"/>
<circle class="s" cx="355.0" cy="235.8" r="1.62"/>
<circle class="y" cx="321.0" cy="242.2" r="1.62"/>
<circle class="y" cx="323.0" cy="242.2" r="1.62"/>
<circle class="s" cx="326.8" cy="242.2" r="1.62"/>
<circle class="y" cx="372.5" cy="240.0" r="1.62"/>
<circle class="s" cx="364.2" cy="243.8" r="1.62"/>
<circle class="s" cx="342.5" cy="248.8" r="1.62"/>
<circle class="s" cx="345.2" cy="249.0" r="1.62"/>
<circle class="s" cx="356.2" cy="248.8" r="1.62"/>
<circle class="s" cx="358.2" cy="249.8" r="1.62"/>
<circle class="y" cx="364.0" cy="248.5" r="1.62"/>
<circle class="s" cx="371.8" cy="250.0" r="1.62"/>
<circle class="s" cx="355.5" cy="253.0" r="1.62"/>
<circle class="s" cx="333.2" cy="254.8" r="1.62"/>
<circle class="s" cx="339.8" cy="256.8" r="1.62"/>
<circle class="s" cx="366.8" cy="254.2" r="1.62"/>
<circle class="s" cx="372.0" cy="255.5" r="1.62"/>
<circle class="s" cx="371.5" cy="260.8" r="1.62"/>
<circle class="s" cx="354.8" cy="262.5" r="1.62"/>
<circle class="s" cx="347.8" cy="268.0" r="1.62"/>
<circle class="s" cx="353.5" cy="268.5" r="1.62"/>
<circle class="k" cx="355.8" cy="269.2" r="1.62"/>
<circle class="s" cx="359.2" cy="271.0" r="1.62"/>
<circle class="s" cx="366.8" cy="267.8" r="1.62"/>
<circle class="s" cx="368.8" cy="266.5" r="1.62"/>
<circle class="s" cx="360.5" cy="273.5" r="1.62"/>
<circle class="y" cx="369.0" cy="273.5" r="1.62"/>
<circle class="s" cx="358.2" cy="275.8" r="1.62"/>
<circle class="y" cx="330.5" cy="278.8" r="1.62"/>
<circle class="k" cx="337.0" cy="278.8" r="1.62"/>
<circle class="y" cx="326.8" cy="284.8" r="1.62"/>
<circle class="y" cx="341.2" cy="285.8" r="1.62"/>
<circle class="y" cx="354.8" cy="282.8" r="1.62"/>
<circle class="s" cx="353.0" cy="288.8" r="1.62"/>
<circle class="s" cx="372.5" cy="284.2" r="1.62"/>
<circle class="y" cx="344.0" cy="293.0" r="1.62"/>
<circle class="y" cx="349.8" cy="296.0" r="1.62"/>
<circle class="y" cx="354.8" cy="296.0" r="1.62"/>
<circle class="y" cx="357.8" cy="299.0" r="1.62"/>
<circle class="y" cx="345.8" cy="298.8" r="1.62"/>
<circle class="y" cx="340.8" cy="299.5" r="1.62"/>
<circle class="y" cx="342.5" cy="303.2" r="1.62"/>
<circle class="k" cx="361.2" cy="295.2" r="1.62"/>
<circle class="k" cx="367.5" cy="290.2" r="1.62"/>
<circle class="k" cx="370.8" cy="291.5" r="1.62"/>
<circle class="k" cx="365.8" cy="296.8" r="1.62"/>
<circle class="k" cx="369.2" cy="297.0" r="1.62"/>
<circle class="k" cx="367.2" cy="302.5" r="1.62"/>
<circle class="k" cx="370.0" cy="302.0" r="1.62"/>
<circle class="k" cx="357.5" cy="305.5" r="1.62"/>
<circle class="k" cx="365.2" cy="306.2" r="1.62"/>
<circle class="k" cx="362.2" cy="307.2" r="1.62"/>
<circle class="k" cx="341.8" cy="307.2" r="1.62"/>
<circle class="k" cx="343.5" cy="309.2" r="1.62"/>
<circle class="s" cx="327.5" cy="307.5" r="1.62"/>
<circle class="s" cx="335.8" cy="307.5" r="1.62"/>
<circle class="k" cx="343.8" cy="312.2" r="1.62"/>
<circle class="k" cx="368.5" cy="309.8" r="1.62"/>
<circle class="k" cx="360.0" cy="312.8" r="1.62"/>
<circle class="k" cx="360.2" cy="315.0" r="1.62"/>
<circle class="k" cx="358.5" cy="319.2" r="1.62"/>
<circle class="p" cx="360.8" cy="321.5" r="1.62"/>
<circle class="y" cx="395.5" cy="206.5" r="1.62"/>
<circle class="y" cx="397.2" cy="208.2" r="1.62"/>
<circle class="y" cx="413.2" cy="208.8" r="1.62"/>
<circle class="y" cx="415.5" cy="209.2" r="1.62"/>
<circle class="y" cx="417.5" cy="207.0" r="1.62"/>
<circle class="y" cx="420.0" cy="210.2" r="1.62"/>
<circle class="y" cx="374.8" cy="213.8" r="1.62"/>
<circle class="y" cx="379.8" cy="215.8" r="1.62"/>
<circle class="y" cx="400.5" cy="212.8" r="1.62"/>
<circle class="y" cx="403.5" cy="214.8" r="1.62"/>
<circle class="y" cx="399.2" cy="216.0" r="1.62"/>
<circle class="y" cx="411.8" cy="214.8" r="1.62"/>
<circle class="y" cx="409.8" cy="217.0" r="1.62"/>
<circle class="y" cx="418.5" cy="215.0" r="1.62"/>
<circle class="y" cx="385.5" cy="220.0" r="1.62"/>
<circle class="y" cx="388.5" cy="220.0" r="1.62"/>
<circle class="y" cx="380.2" cy="222.2" r="1.62"/>
<circle class="y" cx="426.5" cy="220.5" r="1.62"/>
<circle class="y" cx="399.2" cy="225.2" r="1.62"/>
<circle class="y" cx="406.2" cy="223.5" r="1.62"/>
<circle class="y" cx="411.2" cy="224.5" r="1.62"/>
<circle class="y" cx="419.0" cy="225.2" r="1.62"/>
<circle class="y" cx="374.5" cy="229.5" r="1.62"/>
<circle class="y" cx="389.5" cy="231.8" r="1.62"/>
<circle class="y" cx="390.8" cy="232.5" r="1.62"/>
<circle class="y" cx="418.8" cy="235.5" r="1.62"/>
<circle class="y" cx="377.5" cy="237.2" r="1.62"/>
<circle class="y" cx="380.5" cy="237.2" r="1.62"/>
<circle class="y" cx="409.2" cy="238.5" r="1.62"/>
<circle class="y" cx="412.5" cy="240.5" r="1.62"/>
<circle class="s" cx="413.0" cy="243.2" r="1.62"/>
<circle class="s" cx="379.5" cy="248.5" r="1.62"/>
<circle class="s" cx="388.2" cy="249.0" r="1.62"/>
<circle class="s" cx="392.5" cy="249.0" r="1.62"/>
<circle class="s" cx="401.8" cy="251.2" r="1.62"/>
<circle class="s" cx="414.5" cy="248.0" r="1.62"/>
<circle class="s" cx="409.8" cy="252.5" r="1.62"/>
<circle class="s" cx="415.5" cy="253.5" r="1.62"/>
<circle class="s" cx="419.2" cy="253.8" r="1.62"/>
<circle class="y" cx="378.2" cy="255.0" r="1.62"/>
<circle class="s" cx="394.2" cy="260.5" r="1.62"/>
<circle class="s" cx="394.2" cy="262.8" r="1.62"/>
<circle class="s" cx="394.8" cy="265.8" r="1.62"/>
<circle class="k" cx="391.8" cy="268.2" r="1.62"/>
<circle class="k" cx="375.2" cy="264.5" r="1.62"/>
<circle class="p" cx="379.2" cy="265.8" r="1.62"/>
<circle class="y" cx="413.2" cy="260.0" r="1.62"/>
<circle class="s" cx="426.0" cy="259.8" r="1.62"/>
<circle class="s" cx="427.5" cy="266.5" r="1.62"/>
<circle class="s" cx="411.2" cy="265.0" r="1.62"/>
<circle class="s" cx="417.5" cy="263.2" r="1.62"/>
<circle class="s" cx="418.8" cy="265.8" r="1.62"/>
<circle class="s" cx="420.8" cy="265.8" r="1.62"/>
<circle class="s" cx="404.8" cy="270.5" r="1.62"/>
<circle class="s" cx="411.0" cy="271.8" r="1.62"/>
<circle class="s" cx="416.5" cy="272.5" r="1.62"/>
<circle class="s" cx="382.2" cy="276.8" r="1.62"/>
<circle class="s" cx="385.5" cy="276.0" r="1.62"/>
<circle class="k" cx="390.5" cy="275.8" r="1.62"/>
<circle class="k" cx="407.5" cy="276.2" r="1.62"/>
<circle class="k" cx="378.8" cy="279.5" r="1.62"/>
<circle class="k" cx="421.2" cy="279.2" r="1.62"/>
<circle class="k" cx="420.8" cy="282.8" r="1.62"/>
<circle class="s" cx="396.5" cy="281.5" r="1.62"/>
<circle class="k" cx="385.5" cy="287.2" r="1.62"/>
<circle class="k" cx="374.8" cy="290.5" r="1.62"/>
<circle class="k" cx="408.5" cy="291.0" r="1.62"/>
<circle class="k" cx="395.8" cy="293.0" r="1.62"/>
<circle class="k" cx="405.2" cy="293.2" r="1.62"/>
<circle class="k" cx="404.8" cy="295.5" r="1.62"/>
<circle class="k" cx="381.8" cy="295.8" r="1.62"/>
<circle class="k" cx="385.5" cy="295.2" r="1.62"/>
<circle class="k" cx="373.8" cy="297.5" r="1.62"/>
<circle class="k" cx="388.8" cy="299.0" r="1.62"/>
<circle class="k" cx="397.8" cy="298.2" r="1.62"/>
<circle class="k" cx="400.0" cy="297.8" r="1.62"/>
<circle class="k" cx="380.5" cy="300.5" r="1.62"/>
<circle class="k" cx="378.0" cy="302.0" r="1.62"/>
<circle class="k" cx="381.8" cy="303.2" r="1.62"/>
<circle class="k" cx="383.5" cy="305.0" r="1.62"/>
<circle class="k" cx="377.2" cy="306.0" r="1.62"/>
<circle class="k" cx="404.5" cy="302.5" r="1.62"/>
<circle class="k" cx="397.2" cy="305.2" r="1.62"/>
<circle class="k" cx="396.2" cy="307.2" r="1.62"/>
<circle class="k" cx="393.0" cy="309.2" r="1.62"/>
<circle class="k" cx="409.5" cy="308.5" r="1.62"/>
<circle class="p" cx="416.2" cy="302.8" r="1.62"/>
<circle class="k" cx="379.2" cy="311.0" r="1.62"/>
<circle class="k" cx="376.5" cy="314.0" r="1.62"/>
<circle class="k" cx="379.5" cy="314.8" r="1.62"/>
<circle class="k" cx="399.5" cy="311.5" r="1.62"/>
<circle class="k" cx="421.2" cy="311.8" r="1.62"/>
<circle class="p" cx="390.8" cy="313.2" r="1.62"/>
<circle class="p" cx="407.0" cy="314.5" r="1.62"/>
<circle class="p" cx="408.2" cy="317.8" r="1.62"/>
<circle class="k" cx="405.5" cy="317.5" r="1.62"/>
<circle class="k" cx="414.8" cy="317.5" r="1.62"/>
<circle class="p" cx="422.5" cy="315.2" r="1.62"/>
<circle class="p" cx="425.8" cy="318.0" r="1.62"/>
<circle class="k" cx="397.8" cy="318.5" r="1.62"/>
<circle class="p" cx="399.8" cy="321.0" r="1.62"/>
<circle class="p" cx="399.8" cy="323.2" r="1.62"/>
<circle class="k" cx="378.2" cy="324.8" r="1.62"/>
<circle class="k" cx="381.2" cy="327.5" r="1.62"/>
<circle class="k" cx="382.8" cy="328.5" r="1.62"/>
<circle class="k" cx="389.2" cy="329.0" r="1.62"/>
<circle class="p" cx="412.8" cy="324.8" r="1.62"/>
<circle class="p" cx="416.2" cy="325.8" r="1.62"/>
<circle class="p" cx="419.0" cy="327.2" r="1.62"/>
<circle class="p" cx="427.5" cy="322.8" r="1.62"/>
<circle class="p" cx="397.2" cy="330.5" r="1.62"/>
<circle class="p" cx="409.2" cy="332.0" r="1.62"/>
<circle class="p" cx="411.5" cy="334.8" r="1.62"/>
<circle class="p" cx="397.0" cy="335.8" r="1.62"/>
<circle class="p" cx="423.5" cy="340.5" r="1.62"/>
<circle class="p" cx="427.5" cy="331.2" r="1.62"/>
<circle class="p" cx="398.8" cy="344.0" r="1.62"/>
<circle class="p" cx="405.5" cy="345.8" r="1.62"/>
<circle class="p" cx="418.5" cy="348.2" r="1.62"/>
<circle class="y" cx="434.8" cy="212.8" r="1.62"/>
<circle class="y" cx="443.0" cy="210.8" r="1.62"/>
<circle class="y" cx="447.8" cy="210.5" r="1.62"/>
<circle class="y" cx="443.5" cy="214.5" r="1.62"/>
<circle class="y" cx="448.2" cy="213.2" r="1.62"/>
<circle class="y" cx="452.5" cy="213.2" r="1.62"/>
<circle class="y" cx="436.2" cy="218.8" r="1.62"/>
<circle class="y" cx="439.5" cy="218.0" r="1.62"/>
<circle class="y" cx="445.5" cy="219.8" r="1.62"/>
<circle class="y" cx="443.5" cy="222.5" r="1.62"/>
<circle class="y" cx="450.2" cy="220.5" r="1.62"/>
<circle class="y" cx="433.8" cy="231.2" r="1.62"/>
<circle class="y" cx="436.8" cy="234.8" r="1.62"/>
<circle class="y" cx="435.2" cy="237.2" r="1.62"/>
<circle class="y" cx="452.2" cy="232.5" r="1.62"/>
<circle class="s" cx="459.5" cy="235.8" r="1.62"/>
<circle class="s" cx="465.8" cy="235.0" r="1.62"/>
<circle class="s" cx="468.8" cy="234.8" r="1.62"/>
<circle class="s" cx="471.2" cy="234.5" r="1.62"/>
<circle class="y" cx="429.8" cy="244.8" r="1.62"/>
<circle class="y" cx="449.8" cy="243.0" r="1.62"/>
<circle class="y" cx="456.5" cy="240.5" r="1.62"/>
<circle class="y" cx="458.5" cy="240.8" r="1.62"/>
<circle class="s" cx="465.2" cy="245.8" r="1.62"/>
<circle class="s" cx="467.8" cy="243.8" r="1.62"/>
<circle class="s" cx="473.8" cy="245.8" r="1.62"/>
<circle class="s" cx="478.5" cy="246.8" r="1.62"/>
<circle class="s" cx="482.5" cy="248.2" r="1.62"/>
<circle class="s" cx="475.2" cy="251.2" r="1.62"/>
<circle class="s" cx="478.0" cy="250.2" r="1.62"/>
<circle class="s" cx="482.5" cy="252.0" r="1.62"/>
<circle class="s" cx="434.2" cy="255.8" r="1.62"/>
<circle class="s" cx="439.8" cy="254.5" r="1.62"/>
<circle class="s" cx="445.8" cy="252.8" r="1.62"/>
<circle class="s" cx="447.8" cy="252.2" r="1.62"/>
<circle class="s" cx="450.0" cy="254.5" r="1.62"/>
<circle class="s" cx="459.8" cy="253.5" r="1.62"/>
<circle class="s" cx="480.0" cy="257.0" r="1.62"/>
<circle class="s" cx="482.5" cy="257.5" r="1.62"/>
<circle class="s" cx="437.8" cy="260.0" r="1.62"/>
<circle class="s" cx="435.0" cy="262.2" r="1.62"/>
<circle class="s" cx="441.5" cy="261.5" r="1.62"/>
<circle class="s" cx="448.5" cy="260.2" r="1.62"/>
<circle class="p" cx="438.2" cy="265.5" r="1.62"/>
<circle class="s" cx="450.2" cy="265.8" r="1.62"/>
<circle class="s" cx="442.5" cy="270.5" r="1.62"/>
<circle class="s" cx="451.0" cy="271.2" r="1.62"/>
<circle class="s" cx="466.8" cy="269.5" r="1.62"/>
<circle class="k" cx="447.5" cy="272.0" r="1.62"/>
<circle class="k" cx="457.2" cy="271.8" r="1.62"/>
<circle class="k" cx="462.5" cy="272.2" r="1.62"/>
<circle class="s" cx="433.8" cy="273.5" r="1.62"/>
<circle class="p" cx="442.8" cy="274.8" r="1.62"/>
<circle class="s" cx="447.5" cy="275.0" r="1.62"/>
<circle class="s" cx="468.5" cy="275.5" r="1.62"/>
<circle class="s" cx="471.5" cy="275.8" r="1.62"/>
<circle class="k" cx="449.0" cy="283.2" r="1.62"/>
<circle class="p" cx="460.8" cy="283.2" r="1.62"/>
<circle class="p" cx="458.8" cy="285.5" r="1.62"/>
<circle class="k" cx="429.5" cy="286.0" r="1.62"/>
<circle class="k" cx="432.8" cy="287.5" r="1.62"/>
<circle class="k" cx="472.5" cy="288.0" r="1.62"/>
<circle class="k" cx="441.0" cy="295.2" r="1.62"/>
<circle class="k" cx="440.0" cy="299.2" r="1.62"/>
<circle class="k" cx="443.8" cy="302.0" r="1.62"/>
<circle class="k" cx="429.5" cy="301.2" r="1.62"/>
<circle class="k" cx="460.5" cy="297.8" r="1.62"/>
<circle class="p" cx="463.5" cy="298.2" r="1.62"/>
<circle class="g" cx="468.2" cy="299.5" r="1.62"/>
<circle class="p" cx="478.8" cy="308.5" r="1.62"/>
<circle class="g" cx="439.8" cy="313.8" r="1.62"/>
<circle class="p" cx="437.0" cy="315.8" r="1.62"/>
<circle class="p" cx="437.0" cy="320.8" r="1.62"/>
<circle class="p" cx="442.0" cy="319.5" r="1.62"/>
<circle class="p" cx="431.8" cy="325.5" r="1.62"/>
<circle class="p" cx="436.2" cy="326.2" r="1.62"/>
<circle class="p" cx="440.5" cy="326.2" r="1.62"/>
<circle class="p" cx="446.8" cy="325.8" r="1.62"/>
<circle class="p" cx="450.2" cy="323.8" r="1.62"/>
<circle class="p" cx="461.0" cy="317.8" r="1.62"/>
<circle class="p" cx="463.0" cy="315.8" r="1.62"/>
<circle class="p" cx="462.8" cy="321.8" r="1.62"/>
<circle class="p" cx="471.2" cy="321.5" r="1.62"/>
<circle class="p" cx="476.8" cy="321.5" r="1.62"/>
<circle class="p" cx="431.2" cy="331.0" r="1.62"/>
<circle class="p" cx="467.5" cy="329.8" r="1.62"/>
<circle class="p" cx="468.8" cy="332.5" r="1.62"/>
<circle class="p" cx="469.8" cy="334.8" r="1.62"/>
<circle class="p" cx="463.0" cy="335.5" r="1.62"/>
<circle class="g" cx="462.5" cy="338.5" r="1.62"/>
<circle class="p" cx="449.2" cy="336.8" r="1.62"/>
<circle class="p" cx="452.5" cy="339.8" r="1.62"/>
<circle class="p" cx="456.0" cy="339.5" r="1.62"/>
<circle class="p" cx="444.2" cy="340.8" r="1.62"/>
<circle class="p" cx="453.2" cy="342.8" r="1.62"/>
<circle class="g" cx="471.0" cy="340.8" r="1.62"/>
<circle class="g" cx="479.8" cy="333.5" r="1.62"/>
<circle class="g" cx="479.2" cy="339.5" r="1.62"/>
<circle class="g" cx="482.0" cy="340.5" r="1.62"/>
<circle class="g" cx="474.2" cy="344.2" r="1.62"/>
<circle class="g" cx="434.8" cy="346.0" r="1.62"/>
<circle class="g" cx="453.5" cy="346.0" r="1.62"/>
<circle class="g" cx="467.8" cy="348.2" r="1.62"/>
<circle class="g" cx="476.0" cy="349.8" r="1.62"/>
<circle class="g" cx="482.0" cy="347.5" r="1.62"/>
<circle class="g" cx="438.0" cy="352.8" r="1.62"/>
<circle class="p" cx="439.8" cy="355.0" r="1.62"/>
<circle class="p" cx="434.2" cy="356.2" r="1.62"/>
<circle class="g" cx="443.8" cy="355.8" r="1.62"/>
<circle class="g" cx="447.5" cy="356.2" r="1.62"/>
<circle class="g" cx="459.5" cy="354.8" r="1.62"/>
<circle class="g" cx="465.8" cy="354.2" r="1.62"/>
<circle class="g" cx="473.5" cy="353.5" r="1.62"/>
<circle class="g" cx="473.5" cy="355.8" r="1.62"/>
<circle class="g" cx="475.5" cy="357.5" r="1.62"/>
<circle class="g" cx="481.5" cy="353.0" r="1.62"/>
<circle class="g" cx="469.8" cy="359.2" r="1.62"/>
<circle class="g" cx="463.8" cy="362.2" r="1.62"/>
<circle class="g" cx="464.0" cy="364.0" r="1.62"/>
<circle class="g" cx="477.8" cy="361.2" r="1.62"/>
<circle class="g" cx="476.5" cy="363.0" r="1.62"/>
<circle class="g" cx="482.5" cy="360.5" r="1.62"/>
<circle class="s" cx="487.6" cy="246.4" r="1.62"/>
<circle class="s" cx="488.9" cy="244.7" r="1.62"/>
<circle class="p" cx="492.2" cy="244.2" r="1.62"/>
<circle class="p" cx="497.7" cy="249.6" r="1.62"/>
<circle class="p" cx="500.5" cy="250.4" r="1.62"/>
<circle class="s" cx="484.9" cy="255.9" r="1.62"/>
<circle class="p" cx="484.6" cy="259.8" r="1.62"/>
<circle class="g" cx="495.8" cy="330.9" r="1.62"/>
<circle class="g" cx="499.1" cy="332.9" r="1.62"/>
<circle class="g" cx="499.9" cy="336.6" r="1.62"/>
<circle class="g" cx="492.0" cy="336.9" r="1.62"/>
<circle class="g" cx="504.9" cy="337.7" r="1.62"/>
<circle class="g" cx="510.0" cy="339.1" r="1.62"/>
<circle class="g" cx="513.3" cy="337.5" r="1.62"/>
<circle class="g" cx="486.8" cy="344.9" r="1.62"/>
<circle class="g" cx="509.5" cy="346.4" r="1.62"/>
<circle class="g" cx="514.7" cy="346.7" r="1.62"/>
<circle class="g" cx="521.5" cy="344.2" r="1.62"/>
<circle class="g" cx="526.7" cy="342.7" r="1.62"/>
<circle class="g" cx="530.7" cy="344.2" r="1.62"/>
<circle class="g" cx="533.5" cy="346.2" r="1.62"/>
<circle class="g" cx="523.6" cy="346.4" r="1.62"/>
<circle class="g" cx="528.0" cy="346.7" r="1.62"/>
<circle class="g" cx="490.0" cy="349.7" r="1.62"/>
<circle class="g" cx="516.9" cy="350.5" r="1.62"/>
<circle class="g" cx="520.6" cy="347.2" r="1.62"/>
<circle class="g" cx="527.5" cy="349.4" r="1.62"/>
<circle class="g" cx="528.5" cy="351.6" r="1.62"/>
<circle class="g" cx="491.1" cy="357.0" r="1.62"/>
<circle class="g" cx="495.5" cy="357.7" r="1.62"/>
</svg>
</body></html>
